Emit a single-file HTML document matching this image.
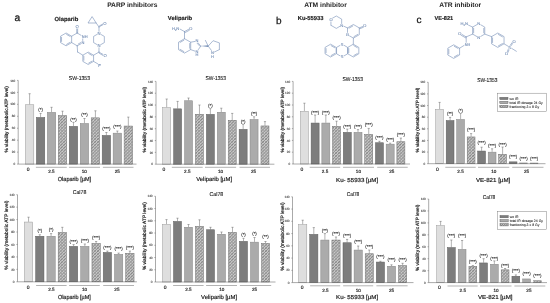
<!DOCTYPE html><html><head><meta charset="utf-8"><style>html,body{margin:0;padding:0;background:#fff;width:550px;height:303px;overflow:hidden}svg{display:block;text-rendering:geometricPrecision;filter:blur(0.3px)}text{font-family:'Liberation Sans', Arial, sans-serif}</style></head><body>
<svg width="550" height="303" viewBox="0 0 550 303">
<defs><pattern id="hatch" patternUnits="userSpaceOnUse" width="2.2" height="2.2" patternTransform="rotate(45)"><rect width="2.2" height="2.2" fill="#cacaca"/><rect width="0.75" height="2.2" fill="#858585"/><rect width="2.2" height="0.6" fill="#9a9a9a"/></pattern><pattern id="lhatch" patternUnits="userSpaceOnUse" width="1.6" height="1.6" patternTransform="rotate(45)"><rect width="1.6" height="1.6" fill="#c8c8c8"/><rect width="0.7" height="1.6" fill="#777"/></pattern></defs>
<rect width="550" height="303" fill="#fff"/>
<line x1="29.60" y1="93.70" x2="29.60" y2="104.50" stroke="#555" stroke-width="0.45"/>
<line x1="28.50" y1="93.70" x2="30.70" y2="93.70" stroke="#555" stroke-width="0.45"/>
<rect x="25.40" y="104.75" width="8.40" height="59.35" fill="#dedede" stroke="#9a9a9a" stroke-width="0.5"/>
<line x1="40.57" y1="113.40" x2="40.57" y2="117.20" stroke="#555" stroke-width="0.45"/>
<line x1="39.47" y1="113.40" x2="41.67" y2="113.40" stroke="#555" stroke-width="0.45"/>
<rect x="36.37" y="117.45" width="8.40" height="46.65" fill="#7d7d7d" stroke="#5e5e5e" stroke-width="0.5"/>
<text x="40.6" y="111.1" font-size="4.4" text-anchor="middle" font-weight="normal" fill="#333" stroke="#444" stroke-width="0.14">(*)</text>
<line x1="51.54" y1="107.30" x2="51.54" y2="112.10" stroke="#555" stroke-width="0.45"/>
<line x1="50.44" y1="107.30" x2="52.64" y2="107.30" stroke="#555" stroke-width="0.45"/>
<rect x="47.34" y="112.35" width="8.40" height="51.75" fill="#ababab" stroke="#858585" stroke-width="0.5"/>
<line x1="62.51" y1="111.20" x2="62.51" y2="115.30" stroke="#555" stroke-width="0.45"/>
<line x1="61.41" y1="111.20" x2="63.61" y2="111.20" stroke="#555" stroke-width="0.45"/>
<rect x="58.31" y="115.55" width="8.40" height="48.55" fill="url(#hatch)" stroke="#6e6e6e" stroke-width="0.5"/>
<line x1="73.48" y1="122.30" x2="73.48" y2="126.10" stroke="#555" stroke-width="0.45"/>
<line x1="72.38" y1="122.30" x2="74.58" y2="122.30" stroke="#555" stroke-width="0.45"/>
<rect x="69.28" y="126.35" width="8.40" height="37.75" fill="#7d7d7d" stroke="#5e5e5e" stroke-width="0.5"/>
<text x="73.5" y="120.6" font-size="4.4" text-anchor="middle" font-weight="normal" fill="#333" stroke="#444" stroke-width="0.14">(**)</text>
<line x1="84.45" y1="118.50" x2="84.45" y2="123.20" stroke="#555" stroke-width="0.45"/>
<line x1="83.35" y1="118.50" x2="85.55" y2="118.50" stroke="#555" stroke-width="0.45"/>
<rect x="80.25" y="123.45" width="8.40" height="40.65" fill="#ababab" stroke="#858585" stroke-width="0.5"/>
<text x="84.5" y="116.0" font-size="4.4" text-anchor="middle" font-weight="normal" fill="#333" stroke="#444" stroke-width="0.14">(**)</text>
<line x1="95.42" y1="110.80" x2="95.42" y2="117.60" stroke="#555" stroke-width="0.45"/>
<line x1="94.32" y1="110.80" x2="96.52" y2="110.80" stroke="#555" stroke-width="0.45"/>
<rect x="91.22" y="117.85" width="8.40" height="46.25" fill="url(#hatch)" stroke="#6e6e6e" stroke-width="0.5"/>
<line x1="106.39" y1="132.50" x2="106.39" y2="135.20" stroke="#555" stroke-width="0.45"/>
<line x1="105.29" y1="132.50" x2="107.49" y2="132.50" stroke="#555" stroke-width="0.45"/>
<rect x="102.19" y="135.45" width="8.40" height="28.65" fill="#7d7d7d" stroke="#5e5e5e" stroke-width="0.5"/>
<text x="106.4" y="129.7" font-size="4.4" text-anchor="middle" font-weight="normal" fill="#333" stroke="#444" stroke-width="0.14">(***)</text>
<line x1="117.36" y1="131.00" x2="117.36" y2="132.90" stroke="#555" stroke-width="0.45"/>
<line x1="116.26" y1="131.00" x2="118.46" y2="131.00" stroke="#555" stroke-width="0.45"/>
<rect x="113.16" y="133.15" width="8.40" height="30.95" fill="#ababab" stroke="#858585" stroke-width="0.5"/>
<text x="117.4" y="128.4" font-size="4.4" text-anchor="middle" font-weight="normal" fill="#333" stroke="#444" stroke-width="0.14">(***)</text>
<line x1="128.33" y1="117.10" x2="128.33" y2="125.80" stroke="#555" stroke-width="0.45"/>
<line x1="127.23" y1="117.10" x2="129.43" y2="117.10" stroke="#555" stroke-width="0.45"/>
<rect x="124.13" y="126.05" width="8.40" height="38.05" fill="url(#hatch)" stroke="#6e6e6e" stroke-width="0.5"/>
<line x1="18.20" y1="80.40" x2="18.20" y2="164.10" stroke="#555" stroke-width="0.5"/>
<line x1="18.20" y1="164.10" x2="136.50" y2="164.10" stroke="#555" stroke-width="0.5"/>
<line x1="17.00" y1="164.10" x2="18.20" y2="164.10" stroke="#555" stroke-width="0.45"/>
<text x="15.3" y="165.2" font-size="3.1" text-anchor="end" font-weight="normal" fill="#333" stroke="#444" stroke-width="0.08">0</text>
<line x1="17.00" y1="152.14" x2="18.20" y2="152.14" stroke="#555" stroke-width="0.45"/>
<text x="15.3" y="153.2" font-size="3.1" text-anchor="end" font-weight="normal" fill="#333" stroke="#444" stroke-width="0.08">20</text>
<line x1="17.00" y1="140.19" x2="18.20" y2="140.19" stroke="#555" stroke-width="0.45"/>
<text x="15.3" y="141.3" font-size="3.1" text-anchor="end" font-weight="normal" fill="#333" stroke="#444" stroke-width="0.08">40</text>
<line x1="17.00" y1="128.23" x2="18.20" y2="128.23" stroke="#555" stroke-width="0.45"/>
<text x="15.3" y="129.3" font-size="3.1" text-anchor="end" font-weight="normal" fill="#333" stroke="#444" stroke-width="0.08">60</text>
<line x1="17.00" y1="116.27" x2="18.20" y2="116.27" stroke="#555" stroke-width="0.45"/>
<text x="15.3" y="117.4" font-size="3.1" text-anchor="end" font-weight="normal" fill="#333" stroke="#444" stroke-width="0.08">80</text>
<line x1="17.00" y1="104.31" x2="18.20" y2="104.31" stroke="#555" stroke-width="0.45"/>
<text x="15.3" y="105.4" font-size="3.1" text-anchor="end" font-weight="normal" fill="#333" stroke="#444" stroke-width="0.08">100</text>
<line x1="17.00" y1="92.36" x2="18.20" y2="92.36" stroke="#555" stroke-width="0.45"/>
<text x="15.3" y="93.5" font-size="3.1" text-anchor="end" font-weight="normal" fill="#333" stroke="#444" stroke-width="0.08">120</text>
<line x1="17.00" y1="80.40" x2="18.20" y2="80.40" stroke="#555" stroke-width="0.45"/>
<text x="15.3" y="81.5" font-size="3.1" text-anchor="end" font-weight="normal" fill="#333" stroke="#444" stroke-width="0.08">140</text>
<text x="0" y="0" font-size="4.73" text-anchor="middle" fill="#1a1a1a" stroke="#222" stroke-width="0.2" transform="translate(8.3,119.3) rotate(-90)">% viability (metabolic ATP level)</text>
<text x="68.80" y="79.60" font-size="5.6" textLength="21.25" lengthAdjust="spacingAndGlyphs" fill="#111" stroke="#222" stroke-width="0.1">SW-1353</text>
<text x="28.1" y="170.6" font-size="5.0" text-anchor="middle" font-weight="normal" fill="#111" stroke="#222" stroke-width="0.15">0</text>
<line x1="35.90" y1="167.30" x2="66.80" y2="167.30" stroke="#555" stroke-width="0.45"/>
<text x="51.4" y="172.8" font-size="4.6" text-anchor="middle" font-weight="normal" fill="#111" stroke="#222" stroke-width="0.15">2.5</text>
<line x1="69.00" y1="167.30" x2="100.00" y2="167.30" stroke="#555" stroke-width="0.45"/>
<text x="84.3" y="172.8" font-size="4.6" text-anchor="middle" font-weight="normal" fill="#111" stroke="#222" stroke-width="0.15">10</text>
<line x1="102.90" y1="167.30" x2="133.50" y2="167.30" stroke="#555" stroke-width="0.45"/>
<text x="117.2" y="172.8" font-size="4.6" text-anchor="middle" font-weight="normal" fill="#111" stroke="#222" stroke-width="0.15">25</text>
<text x="57.80" y="180.80" font-size="5.8" textLength="33.25" lengthAdjust="spacingAndGlyphs" fill="#111" stroke="#222" stroke-width="0.18">Olaparib [µM]</text>
<line x1="166.70" y1="99.00" x2="166.70" y2="107.40" stroke="#555" stroke-width="0.45"/>
<line x1="165.60" y1="99.00" x2="167.80" y2="99.00" stroke="#555" stroke-width="0.45"/>
<rect x="162.70" y="107.65" width="8.00" height="56.55" fill="#dedede" stroke="#9a9a9a" stroke-width="0.5"/>
<line x1="177.62" y1="101.40" x2="177.62" y2="108.60" stroke="#555" stroke-width="0.45"/>
<line x1="176.52" y1="101.40" x2="178.72" y2="101.40" stroke="#555" stroke-width="0.45"/>
<rect x="173.62" y="108.85" width="8.00" height="55.35" fill="#7d7d7d" stroke="#5e5e5e" stroke-width="0.5"/>
<line x1="188.54" y1="98.00" x2="188.54" y2="100.50" stroke="#555" stroke-width="0.45"/>
<line x1="187.44" y1="98.00" x2="189.64" y2="98.00" stroke="#555" stroke-width="0.45"/>
<rect x="184.54" y="100.75" width="8.00" height="63.45" fill="#ababab" stroke="#858585" stroke-width="0.5"/>
<line x1="199.46" y1="105.00" x2="199.46" y2="114.00" stroke="#555" stroke-width="0.45"/>
<line x1="198.36" y1="105.00" x2="200.56" y2="105.00" stroke="#555" stroke-width="0.45"/>
<rect x="195.46" y="114.25" width="8.00" height="49.95" fill="url(#hatch)" stroke="#6e6e6e" stroke-width="0.5"/>
<line x1="210.38" y1="108.60" x2="210.38" y2="114.10" stroke="#555" stroke-width="0.45"/>
<line x1="209.28" y1="108.60" x2="211.48" y2="108.60" stroke="#555" stroke-width="0.45"/>
<rect x="206.38" y="114.35" width="8.00" height="49.85" fill="#7d7d7d" stroke="#5e5e5e" stroke-width="0.5"/>
<text x="210.4" y="107.4" font-size="4.4" text-anchor="middle" font-weight="normal" fill="#333" stroke="#444" stroke-width="0.14">(*)</text>
<line x1="221.30" y1="108.20" x2="221.30" y2="112.00" stroke="#555" stroke-width="0.45"/>
<line x1="220.20" y1="108.20" x2="222.40" y2="108.20" stroke="#555" stroke-width="0.45"/>
<rect x="217.30" y="112.25" width="8.00" height="51.95" fill="#ababab" stroke="#858585" stroke-width="0.5"/>
<line x1="232.22" y1="113.40" x2="232.22" y2="120.00" stroke="#555" stroke-width="0.45"/>
<line x1="231.12" y1="113.40" x2="233.32" y2="113.40" stroke="#555" stroke-width="0.45"/>
<rect x="228.22" y="120.25" width="8.00" height="43.95" fill="url(#hatch)" stroke="#6e6e6e" stroke-width="0.5"/>
<line x1="243.14" y1="124.30" x2="243.14" y2="129.10" stroke="#555" stroke-width="0.45"/>
<line x1="242.04" y1="124.30" x2="244.24" y2="124.30" stroke="#555" stroke-width="0.45"/>
<rect x="239.14" y="129.35" width="8.00" height="34.85" fill="#7d7d7d" stroke="#5e5e5e" stroke-width="0.5"/>
<text x="243.1" y="122.5" font-size="4.4" text-anchor="middle" font-weight="normal" fill="#333" stroke="#444" stroke-width="0.14">(*)</text>
<line x1="254.06" y1="116.80" x2="254.06" y2="119.30" stroke="#555" stroke-width="0.45"/>
<line x1="252.96" y1="116.80" x2="255.16" y2="116.80" stroke="#555" stroke-width="0.45"/>
<rect x="250.06" y="119.55" width="8.00" height="44.65" fill="#ababab" stroke="#858585" stroke-width="0.5"/>
<text x="254.1" y="115.4" font-size="4.4" text-anchor="middle" font-weight="normal" fill="#333" stroke="#444" stroke-width="0.14">(**)</text>
<line x1="264.98" y1="121.60" x2="264.98" y2="125.70" stroke="#555" stroke-width="0.45"/>
<line x1="263.88" y1="121.60" x2="266.08" y2="121.60" stroke="#555" stroke-width="0.45"/>
<rect x="260.98" y="125.95" width="8.00" height="38.25" fill="url(#hatch)" stroke="#6e6e6e" stroke-width="0.5"/>
<line x1="156.00" y1="81.40" x2="156.00" y2="164.20" stroke="#555" stroke-width="0.5"/>
<line x1="156.00" y1="164.20" x2="274.40" y2="164.20" stroke="#555" stroke-width="0.5"/>
<line x1="154.80" y1="164.20" x2="156.00" y2="164.20" stroke="#555" stroke-width="0.45"/>
<text x="153.1" y="165.3" font-size="3.1" text-anchor="end" font-weight="normal" fill="#333" stroke="#444" stroke-width="0.08">0</text>
<line x1="154.80" y1="152.37" x2="156.00" y2="152.37" stroke="#555" stroke-width="0.45"/>
<text x="153.1" y="153.5" font-size="3.1" text-anchor="end" font-weight="normal" fill="#333" stroke="#444" stroke-width="0.08">20</text>
<line x1="154.80" y1="140.54" x2="156.00" y2="140.54" stroke="#555" stroke-width="0.45"/>
<text x="153.1" y="141.6" font-size="3.1" text-anchor="end" font-weight="normal" fill="#333" stroke="#444" stroke-width="0.08">40</text>
<line x1="154.80" y1="128.71" x2="156.00" y2="128.71" stroke="#555" stroke-width="0.45"/>
<text x="153.1" y="129.8" font-size="3.1" text-anchor="end" font-weight="normal" fill="#333" stroke="#444" stroke-width="0.08">60</text>
<line x1="154.80" y1="116.89" x2="156.00" y2="116.89" stroke="#555" stroke-width="0.45"/>
<text x="153.1" y="118.0" font-size="3.1" text-anchor="end" font-weight="normal" fill="#333" stroke="#444" stroke-width="0.08">80</text>
<line x1="154.80" y1="105.06" x2="156.00" y2="105.06" stroke="#555" stroke-width="0.45"/>
<text x="153.1" y="106.2" font-size="3.1" text-anchor="end" font-weight="normal" fill="#333" stroke="#444" stroke-width="0.08">100</text>
<line x1="154.80" y1="93.23" x2="156.00" y2="93.23" stroke="#555" stroke-width="0.45"/>
<text x="153.1" y="94.3" font-size="3.1" text-anchor="end" font-weight="normal" fill="#333" stroke="#444" stroke-width="0.08">120</text>
<line x1="154.80" y1="81.40" x2="156.00" y2="81.40" stroke="#555" stroke-width="0.45"/>
<text x="153.1" y="82.5" font-size="3.1" text-anchor="end" font-weight="normal" fill="#333" stroke="#444" stroke-width="0.08">140</text>
<text x="0" y="0" font-size="4.68" text-anchor="middle" fill="#1a1a1a" stroke="#222" stroke-width="0.2" transform="translate(146.2,119.8) rotate(-90)">% viability (metabolic ATP level)</text>
<text x="205.50" y="80.30" font-size="5.6" textLength="20.55" lengthAdjust="spacingAndGlyphs" fill="#111" stroke="#222" stroke-width="0.1">SW-1353</text>
<text x="164.0" y="170.7" font-size="5.0" text-anchor="middle" font-weight="normal" fill="#111" stroke="#222" stroke-width="0.15">0</text>
<line x1="171.80" y1="167.30" x2="202.70" y2="167.30" stroke="#555" stroke-width="0.45"/>
<text x="187.3" y="172.8" font-size="4.6" text-anchor="middle" font-weight="normal" fill="#111" stroke="#222" stroke-width="0.15">2.5</text>
<line x1="205.00" y1="167.30" x2="236.10" y2="167.30" stroke="#555" stroke-width="0.45"/>
<text x="220.5" y="172.8" font-size="4.6" text-anchor="middle" font-weight="normal" fill="#111" stroke="#222" stroke-width="0.15">10</text>
<line x1="239.50" y1="167.30" x2="270.00" y2="167.30" stroke="#555" stroke-width="0.45"/>
<text x="253.5" y="172.8" font-size="4.6" text-anchor="middle" font-weight="normal" fill="#111" stroke="#222" stroke-width="0.15">25</text>
<text x="196.20" y="181.00" font-size="5.8" textLength="35.85" lengthAdjust="spacingAndGlyphs" fill="#111" stroke="#222" stroke-width="0.18">Veliparib [µM]</text>
<line x1="304.40" y1="103.20" x2="304.40" y2="111.00" stroke="#555" stroke-width="0.45"/>
<line x1="303.30" y1="103.20" x2="305.50" y2="103.20" stroke="#555" stroke-width="0.45"/>
<rect x="300.40" y="111.25" width="8.00" height="52.75" fill="#dedede" stroke="#9a9a9a" stroke-width="0.5"/>
<line x1="315.12" y1="115.00" x2="315.12" y2="122.80" stroke="#555" stroke-width="0.45"/>
<line x1="314.02" y1="115.00" x2="316.22" y2="115.00" stroke="#555" stroke-width="0.45"/>
<rect x="311.12" y="123.05" width="8.00" height="40.95" fill="#7d7d7d" stroke="#5e5e5e" stroke-width="0.5"/>
<text x="315.1" y="113.5" font-size="4.4" text-anchor="middle" font-weight="normal" fill="#333" stroke="#444" stroke-width="0.14">(***)</text>
<line x1="325.84" y1="115.00" x2="325.84" y2="122.80" stroke="#555" stroke-width="0.45"/>
<line x1="324.74" y1="115.00" x2="326.94" y2="115.00" stroke="#555" stroke-width="0.45"/>
<rect x="321.84" y="123.05" width="8.00" height="40.95" fill="#ababab" stroke="#858585" stroke-width="0.5"/>
<text x="325.8" y="113.5" font-size="4.4" text-anchor="middle" font-weight="normal" fill="#333" stroke="#444" stroke-width="0.14">(***)</text>
<line x1="336.56" y1="121.20" x2="336.56" y2="126.00" stroke="#555" stroke-width="0.45"/>
<line x1="335.46" y1="121.20" x2="337.66" y2="121.20" stroke="#555" stroke-width="0.45"/>
<rect x="332.56" y="126.25" width="8.00" height="37.75" fill="url(#hatch)" stroke="#6e6e6e" stroke-width="0.5"/>
<text x="336.6" y="119.2" font-size="4.4" text-anchor="middle" font-weight="normal" fill="#333" stroke="#444" stroke-width="0.14">(***)</text>
<line x1="347.28" y1="129.10" x2="347.28" y2="132.10" stroke="#555" stroke-width="0.45"/>
<line x1="346.18" y1="129.10" x2="348.38" y2="129.10" stroke="#555" stroke-width="0.45"/>
<rect x="343.28" y="132.35" width="8.00" height="31.65" fill="#7d7d7d" stroke="#5e5e5e" stroke-width="0.5"/>
<text x="347.3" y="127.5" font-size="4.4" text-anchor="middle" font-weight="normal" fill="#333" stroke="#444" stroke-width="0.14">(***)</text>
<line x1="358.00" y1="129.60" x2="358.00" y2="132.10" stroke="#555" stroke-width="0.45"/>
<line x1="356.90" y1="129.60" x2="359.10" y2="129.60" stroke="#555" stroke-width="0.45"/>
<rect x="354.00" y="132.35" width="8.00" height="31.65" fill="#ababab" stroke="#858585" stroke-width="0.5"/>
<text x="358.0" y="127.5" font-size="4.4" text-anchor="middle" font-weight="normal" fill="#333" stroke="#444" stroke-width="0.14">(***)</text>
<line x1="368.72" y1="128.40" x2="368.72" y2="134.10" stroke="#555" stroke-width="0.45"/>
<line x1="367.62" y1="128.40" x2="369.82" y2="128.40" stroke="#555" stroke-width="0.45"/>
<rect x="364.72" y="134.35" width="8.00" height="29.65" fill="url(#hatch)" stroke="#6e6e6e" stroke-width="0.5"/>
<text x="368.7" y="126.2" font-size="4.4" text-anchor="middle" font-weight="normal" fill="#333" stroke="#444" stroke-width="0.14">(***)</text>
<line x1="379.44" y1="141.30" x2="379.44" y2="142.50" stroke="#555" stroke-width="0.45"/>
<line x1="378.34" y1="141.30" x2="380.54" y2="141.30" stroke="#555" stroke-width="0.45"/>
<rect x="375.44" y="142.75" width="8.00" height="21.25" fill="#7d7d7d" stroke="#5e5e5e" stroke-width="0.5"/>
<text x="379.4" y="139.3" font-size="4.4" text-anchor="middle" font-weight="normal" fill="#333" stroke="#444" stroke-width="0.14">(***)</text>
<line x1="390.16" y1="143.20" x2="390.16" y2="143.90" stroke="#555" stroke-width="0.45"/>
<line x1="389.06" y1="143.20" x2="391.26" y2="143.20" stroke="#555" stroke-width="0.45"/>
<rect x="386.16" y="144.15" width="8.00" height="19.85" fill="#ababab" stroke="#858585" stroke-width="0.5"/>
<text x="390.2" y="141.2" font-size="4.4" text-anchor="middle" font-weight="normal" fill="#333" stroke="#444" stroke-width="0.14">(***)</text>
<line x1="400.88" y1="138.10" x2="400.88" y2="141.50" stroke="#555" stroke-width="0.45"/>
<line x1="399.78" y1="138.10" x2="401.98" y2="138.10" stroke="#555" stroke-width="0.45"/>
<rect x="396.88" y="141.75" width="8.00" height="22.25" fill="url(#hatch)" stroke="#6e6e6e" stroke-width="0.5"/>
<text x="400.9" y="136.0" font-size="4.4" text-anchor="middle" font-weight="normal" fill="#333" stroke="#444" stroke-width="0.14">(***)</text>
<line x1="293.10" y1="81.40" x2="293.10" y2="164.00" stroke="#555" stroke-width="0.5"/>
<line x1="293.10" y1="164.00" x2="410.00" y2="164.00" stroke="#555" stroke-width="0.5"/>
<line x1="291.90" y1="164.00" x2="293.10" y2="164.00" stroke="#555" stroke-width="0.45"/>
<text x="290.2" y="165.1" font-size="3.1" text-anchor="end" font-weight="normal" fill="#333" stroke="#444" stroke-width="0.08">0</text>
<line x1="291.90" y1="152.20" x2="293.10" y2="152.20" stroke="#555" stroke-width="0.45"/>
<text x="290.2" y="153.3" font-size="3.1" text-anchor="end" font-weight="normal" fill="#333" stroke="#444" stroke-width="0.08">20</text>
<line x1="291.90" y1="140.40" x2="293.10" y2="140.40" stroke="#555" stroke-width="0.45"/>
<text x="290.2" y="141.5" font-size="3.1" text-anchor="end" font-weight="normal" fill="#333" stroke="#444" stroke-width="0.08">40</text>
<line x1="291.90" y1="128.60" x2="293.10" y2="128.60" stroke="#555" stroke-width="0.45"/>
<text x="290.2" y="129.7" font-size="3.1" text-anchor="end" font-weight="normal" fill="#333" stroke="#444" stroke-width="0.08">60</text>
<line x1="291.90" y1="116.80" x2="293.10" y2="116.80" stroke="#555" stroke-width="0.45"/>
<text x="290.2" y="117.9" font-size="3.1" text-anchor="end" font-weight="normal" fill="#333" stroke="#444" stroke-width="0.08">80</text>
<line x1="291.90" y1="105.00" x2="293.10" y2="105.00" stroke="#555" stroke-width="0.45"/>
<text x="290.2" y="106.1" font-size="3.1" text-anchor="end" font-weight="normal" fill="#333" stroke="#444" stroke-width="0.08">100</text>
<line x1="291.90" y1="93.20" x2="293.10" y2="93.20" stroke="#555" stroke-width="0.45"/>
<text x="290.2" y="94.3" font-size="3.1" text-anchor="end" font-weight="normal" fill="#333" stroke="#444" stroke-width="0.08">120</text>
<line x1="291.90" y1="81.40" x2="293.10" y2="81.40" stroke="#555" stroke-width="0.45"/>
<text x="290.2" y="82.5" font-size="3.1" text-anchor="end" font-weight="normal" fill="#333" stroke="#444" stroke-width="0.08">140</text>
<text x="0" y="0" font-size="4.66" text-anchor="middle" fill="#1a1a1a" stroke="#222" stroke-width="0.2" transform="translate(284.4,119.8) rotate(-90)">% viability (metabolic ATP level)</text>
<text x="342.50" y="81.00" font-size="5.6" textLength="20.55" lengthAdjust="spacingAndGlyphs" fill="#111" stroke="#222" stroke-width="0.1">SW-1353</text>
<text x="302.0" y="170.9" font-size="5.0" text-anchor="middle" font-weight="normal" fill="#111" stroke="#222" stroke-width="0.15">0</text>
<line x1="309.70" y1="167.30" x2="340.20" y2="167.30" stroke="#555" stroke-width="0.45"/>
<text x="325.0" y="172.8" font-size="4.6" text-anchor="middle" font-weight="normal" fill="#111" stroke="#222" stroke-width="0.15">2.5</text>
<line x1="343.00" y1="167.30" x2="374.00" y2="167.30" stroke="#555" stroke-width="0.45"/>
<text x="358.4" y="172.8" font-size="4.6" text-anchor="middle" font-weight="normal" fill="#111" stroke="#222" stroke-width="0.15">10</text>
<line x1="377.20" y1="167.30" x2="407.70" y2="167.30" stroke="#555" stroke-width="0.45"/>
<text x="391.8" y="172.8" font-size="4.6" text-anchor="middle" font-weight="normal" fill="#111" stroke="#222" stroke-width="0.15">25</text>
<text x="336.10" y="181.80" font-size="5.8" textLength="42.05" lengthAdjust="spacingAndGlyphs" fill="#111" stroke="#222" stroke-width="0.18">Ku- 55933 [µM]</text>
<line x1="439.60" y1="102.40" x2="439.60" y2="109.20" stroke="#555" stroke-width="0.45"/>
<line x1="438.50" y1="102.40" x2="440.70" y2="102.40" stroke="#555" stroke-width="0.45"/>
<rect x="435.70" y="109.45" width="7.80" height="54.25" fill="#dedede" stroke="#9a9a9a" stroke-width="0.5"/>
<line x1="450.10" y1="117.40" x2="450.10" y2="120.30" stroke="#555" stroke-width="0.45"/>
<line x1="449.00" y1="117.40" x2="451.20" y2="117.40" stroke="#555" stroke-width="0.45"/>
<rect x="446.20" y="120.55" width="7.80" height="43.15" fill="#7d7d7d" stroke="#5e5e5e" stroke-width="0.5"/>
<text x="450.1" y="115.1" font-size="4.4" text-anchor="middle" font-weight="normal" fill="#333" stroke="#444" stroke-width="0.14">(**)</text>
<line x1="460.60" y1="113.50" x2="460.60" y2="119.20" stroke="#555" stroke-width="0.45"/>
<line x1="459.50" y1="113.50" x2="461.70" y2="113.50" stroke="#555" stroke-width="0.45"/>
<rect x="456.70" y="119.45" width="7.80" height="44.25" fill="#ababab" stroke="#858585" stroke-width="0.5"/>
<text x="460.6" y="111.5" font-size="4.4" text-anchor="middle" font-weight="normal" fill="#333" stroke="#444" stroke-width="0.14">(*)</text>
<line x1="471.10" y1="133.60" x2="471.10" y2="136.70" stroke="#555" stroke-width="0.45"/>
<line x1="470.00" y1="133.60" x2="472.20" y2="133.60" stroke="#555" stroke-width="0.45"/>
<rect x="467.20" y="136.95" width="7.80" height="26.75" fill="url(#hatch)" stroke="#6e6e6e" stroke-width="0.5"/>
<text x="471.1" y="131.0" font-size="4.4" text-anchor="middle" font-weight="normal" fill="#333" stroke="#444" stroke-width="0.14">(***)</text>
<line x1="481.60" y1="147.20" x2="481.60" y2="150.80" stroke="#555" stroke-width="0.45"/>
<line x1="480.50" y1="147.20" x2="482.70" y2="147.20" stroke="#555" stroke-width="0.45"/>
<rect x="477.70" y="151.05" width="7.80" height="12.65" fill="#7d7d7d" stroke="#5e5e5e" stroke-width="0.5"/>
<text x="481.6" y="144.3" font-size="4.4" text-anchor="middle" font-weight="normal" fill="#333" stroke="#444" stroke-width="0.14">(***)</text>
<line x1="492.10" y1="148.80" x2="492.10" y2="151.90" stroke="#555" stroke-width="0.45"/>
<line x1="491.00" y1="148.80" x2="493.20" y2="148.80" stroke="#555" stroke-width="0.45"/>
<rect x="488.20" y="152.15" width="7.80" height="11.55" fill="#ababab" stroke="#858585" stroke-width="0.5"/>
<text x="492.1" y="146.8" font-size="4.4" text-anchor="middle" font-weight="normal" fill="#333" stroke="#444" stroke-width="0.14">(***)</text>
<line x1="502.60" y1="147.00" x2="502.60" y2="154.00" stroke="#555" stroke-width="0.45"/>
<line x1="501.50" y1="147.00" x2="503.70" y2="147.00" stroke="#555" stroke-width="0.45"/>
<rect x="498.70" y="154.25" width="7.80" height="9.45" fill="url(#hatch)" stroke="#6e6e6e" stroke-width="0.5"/>
<text x="502.6" y="146.4" font-size="4.4" text-anchor="middle" font-weight="normal" fill="#333" stroke="#444" stroke-width="0.14">(***)</text>
<rect x="509.20" y="161.85" width="7.80" height="1.85" fill="#7d7d7d" stroke="#5e5e5e" stroke-width="0.5"/>
<text x="513.1" y="158.4" font-size="4.4" text-anchor="middle" font-weight="normal" fill="#333" stroke="#444" stroke-width="0.14">(***)</text>
<rect x="519.70" y="162.95" width="7.80" height="0.75" fill="#ababab" stroke="#858585" stroke-width="0.5"/>
<text x="523.6" y="159.7" font-size="4.4" text-anchor="middle" font-weight="normal" fill="#333" stroke="#444" stroke-width="0.14">(***)</text>
<rect x="530.20" y="163.05" width="7.80" height="0.65" fill="url(#hatch)" stroke="#6e6e6e" stroke-width="0.5"/>
<text x="534.1" y="159.7" font-size="4.4" text-anchor="middle" font-weight="normal" fill="#333" stroke="#444" stroke-width="0.14">(***)</text>
<line x1="428.20" y1="82.30" x2="428.20" y2="163.70" stroke="#555" stroke-width="0.5"/>
<line x1="428.20" y1="163.70" x2="545.50" y2="163.70" stroke="#555" stroke-width="0.5"/>
<line x1="427.00" y1="163.70" x2="428.20" y2="163.70" stroke="#555" stroke-width="0.45"/>
<text x="425.3" y="164.8" font-size="3.1" text-anchor="end" font-weight="normal" fill="#333" stroke="#444" stroke-width="0.08">0</text>
<line x1="427.00" y1="152.07" x2="428.20" y2="152.07" stroke="#555" stroke-width="0.45"/>
<text x="425.3" y="153.2" font-size="3.1" text-anchor="end" font-weight="normal" fill="#333" stroke="#444" stroke-width="0.08">20</text>
<line x1="427.00" y1="140.44" x2="428.20" y2="140.44" stroke="#555" stroke-width="0.45"/>
<text x="425.3" y="141.5" font-size="3.1" text-anchor="end" font-weight="normal" fill="#333" stroke="#444" stroke-width="0.08">40</text>
<line x1="427.00" y1="128.81" x2="428.20" y2="128.81" stroke="#555" stroke-width="0.45"/>
<text x="425.3" y="129.9" font-size="3.1" text-anchor="end" font-weight="normal" fill="#333" stroke="#444" stroke-width="0.08">60</text>
<line x1="427.00" y1="117.19" x2="428.20" y2="117.19" stroke="#555" stroke-width="0.45"/>
<text x="425.3" y="118.3" font-size="3.1" text-anchor="end" font-weight="normal" fill="#333" stroke="#444" stroke-width="0.08">80</text>
<line x1="427.00" y1="105.56" x2="428.20" y2="105.56" stroke="#555" stroke-width="0.45"/>
<text x="425.3" y="106.7" font-size="3.1" text-anchor="end" font-weight="normal" fill="#333" stroke="#444" stroke-width="0.08">100</text>
<line x1="427.00" y1="93.93" x2="428.20" y2="93.93" stroke="#555" stroke-width="0.45"/>
<text x="425.3" y="95.0" font-size="3.1" text-anchor="end" font-weight="normal" fill="#333" stroke="#444" stroke-width="0.08">120</text>
<line x1="427.00" y1="82.30" x2="428.20" y2="82.30" stroke="#555" stroke-width="0.45"/>
<text x="425.3" y="83.4" font-size="3.1" text-anchor="end" font-weight="normal" fill="#333" stroke="#444" stroke-width="0.08">140</text>
<text x="0" y="0" font-size="4.60" text-anchor="middle" fill="#1a1a1a" stroke="#222" stroke-width="0.2" transform="translate(419.0,120.1) rotate(-90)">% viability (metabolic ATP level)</text>
<text x="477.20" y="81.70" font-size="5.6" textLength="20.15" lengthAdjust="spacingAndGlyphs" fill="#111" stroke="#222" stroke-width="0.1">SW-1353</text>
<text x="437.3" y="170.8" font-size="5.0" text-anchor="middle" font-weight="normal" fill="#111" stroke="#222" stroke-width="0.15">0</text>
<line x1="445.30" y1="167.30" x2="475.70" y2="167.30" stroke="#555" stroke-width="0.45"/>
<text x="460.5" y="172.8" font-size="4.6" text-anchor="middle" font-weight="normal" fill="#111" stroke="#222" stroke-width="0.15">2.5</text>
<line x1="478.00" y1="167.30" x2="509.30" y2="167.30" stroke="#555" stroke-width="0.45"/>
<text x="493.7" y="172.8" font-size="4.6" text-anchor="middle" font-weight="normal" fill="#111" stroke="#222" stroke-width="0.15">10</text>
<line x1="512.20" y1="167.30" x2="543.50" y2="167.30" stroke="#555" stroke-width="0.45"/>
<text x="526.5" y="172.8" font-size="4.6" text-anchor="middle" font-weight="normal" fill="#111" stroke="#222" stroke-width="0.15">25</text>
<text x="475.90" y="181.50" font-size="5.8" textLength="34.35" lengthAdjust="spacingAndGlyphs" fill="#111" stroke="#222" stroke-width="0.18">VE-821 [µM]</text>
<line x1="28.55" y1="217.20" x2="28.55" y2="221.80" stroke="#555" stroke-width="0.45"/>
<line x1="27.45" y1="217.20" x2="29.65" y2="217.20" stroke="#555" stroke-width="0.45"/>
<rect x="24.40" y="222.05" width="8.30" height="59.75" fill="#dedede" stroke="#9a9a9a" stroke-width="0.5"/>
<line x1="39.81" y1="234.70" x2="39.81" y2="236.00" stroke="#555" stroke-width="0.45"/>
<line x1="38.71" y1="234.70" x2="40.91" y2="234.70" stroke="#555" stroke-width="0.45"/>
<rect x="35.66" y="236.25" width="8.30" height="45.55" fill="#7d7d7d" stroke="#5e5e5e" stroke-width="0.5"/>
<text x="39.8" y="231.6" font-size="4.4" text-anchor="middle" font-weight="normal" fill="#333" stroke="#444" stroke-width="0.14">(*)</text>
<line x1="51.07" y1="233.60" x2="51.07" y2="236.00" stroke="#555" stroke-width="0.45"/>
<line x1="49.97" y1="233.60" x2="52.17" y2="233.60" stroke="#555" stroke-width="0.45"/>
<rect x="46.92" y="236.25" width="8.30" height="45.55" fill="#ababab" stroke="#858585" stroke-width="0.5"/>
<text x="51.1" y="230.5" font-size="4.4" text-anchor="middle" font-weight="normal" fill="#333" stroke="#444" stroke-width="0.14">(*)</text>
<line x1="62.33" y1="227.30" x2="62.33" y2="232.20" stroke="#555" stroke-width="0.45"/>
<line x1="61.23" y1="227.30" x2="63.43" y2="227.30" stroke="#555" stroke-width="0.45"/>
<rect x="58.18" y="232.45" width="8.30" height="49.35" fill="url(#hatch)" stroke="#6e6e6e" stroke-width="0.5"/>
<line x1="73.59" y1="244.60" x2="73.59" y2="246.10" stroke="#555" stroke-width="0.45"/>
<line x1="72.49" y1="244.60" x2="74.69" y2="244.60" stroke="#555" stroke-width="0.45"/>
<rect x="69.44" y="246.35" width="8.30" height="35.45" fill="#7d7d7d" stroke="#5e5e5e" stroke-width="0.5"/>
<text x="73.6" y="242.6" font-size="4.4" text-anchor="middle" font-weight="normal" fill="#333" stroke="#444" stroke-width="0.14">(***)</text>
<line x1="84.85" y1="244.00" x2="84.85" y2="246.10" stroke="#555" stroke-width="0.45"/>
<line x1="83.75" y1="244.00" x2="85.95" y2="244.00" stroke="#555" stroke-width="0.45"/>
<rect x="80.70" y="246.35" width="8.30" height="35.45" fill="#ababab" stroke="#858585" stroke-width="0.5"/>
<text x="84.9" y="241.8" font-size="4.4" text-anchor="middle" font-weight="normal" fill="#333" stroke="#444" stroke-width="0.14">(***)</text>
<line x1="96.11" y1="241.50" x2="96.11" y2="243.20" stroke="#555" stroke-width="0.45"/>
<line x1="95.01" y1="241.50" x2="97.21" y2="241.50" stroke="#555" stroke-width="0.45"/>
<rect x="91.96" y="243.45" width="8.30" height="38.35" fill="url(#hatch)" stroke="#6e6e6e" stroke-width="0.5"/>
<text x="96.1" y="239.4" font-size="4.4" text-anchor="middle" font-weight="normal" fill="#333" stroke="#444" stroke-width="0.14">(***)</text>
<line x1="107.37" y1="251.10" x2="107.37" y2="252.20" stroke="#555" stroke-width="0.45"/>
<line x1="106.27" y1="251.10" x2="108.47" y2="251.10" stroke="#555" stroke-width="0.45"/>
<rect x="103.22" y="252.45" width="8.30" height="29.35" fill="#7d7d7d" stroke="#5e5e5e" stroke-width="0.5"/>
<text x="107.4" y="248.6" font-size="4.4" text-anchor="middle" font-weight="normal" fill="#333" stroke="#444" stroke-width="0.14">(***)</text>
<line x1="118.63" y1="253.10" x2="118.63" y2="254.10" stroke="#555" stroke-width="0.45"/>
<line x1="117.53" y1="253.10" x2="119.73" y2="253.10" stroke="#555" stroke-width="0.45"/>
<rect x="114.48" y="254.35" width="8.30" height="27.45" fill="#ababab" stroke="#858585" stroke-width="0.5"/>
<text x="118.6" y="250.4" font-size="4.4" text-anchor="middle" font-weight="normal" fill="#333" stroke="#444" stroke-width="0.14">(***)</text>
<line x1="129.89" y1="251.10" x2="129.89" y2="253.10" stroke="#555" stroke-width="0.45"/>
<line x1="128.79" y1="251.10" x2="130.99" y2="251.10" stroke="#555" stroke-width="0.45"/>
<rect x="125.74" y="253.35" width="8.30" height="28.45" fill="url(#hatch)" stroke="#6e6e6e" stroke-width="0.5"/>
<text x="129.9" y="248.6" font-size="4.4" text-anchor="middle" font-weight="normal" fill="#333" stroke="#444" stroke-width="0.14">(***)</text>
<line x1="17.50" y1="194.70" x2="17.50" y2="281.80" stroke="#555" stroke-width="0.5"/>
<line x1="17.50" y1="281.80" x2="136.90" y2="281.80" stroke="#555" stroke-width="0.5"/>
<line x1="16.30" y1="281.80" x2="17.50" y2="281.80" stroke="#555" stroke-width="0.45"/>
<text x="14.6" y="282.9" font-size="3.1" text-anchor="end" font-weight="normal" fill="#333" stroke="#444" stroke-width="0.08">0</text>
<line x1="16.30" y1="269.36" x2="17.50" y2="269.36" stroke="#555" stroke-width="0.45"/>
<text x="14.6" y="270.5" font-size="3.1" text-anchor="end" font-weight="normal" fill="#333" stroke="#444" stroke-width="0.08">20</text>
<line x1="16.30" y1="256.91" x2="17.50" y2="256.91" stroke="#555" stroke-width="0.45"/>
<text x="14.6" y="258.0" font-size="3.1" text-anchor="end" font-weight="normal" fill="#333" stroke="#444" stroke-width="0.08">40</text>
<line x1="16.30" y1="244.47" x2="17.50" y2="244.47" stroke="#555" stroke-width="0.45"/>
<text x="14.6" y="245.6" font-size="3.1" text-anchor="end" font-weight="normal" fill="#333" stroke="#444" stroke-width="0.08">60</text>
<line x1="16.30" y1="232.03" x2="17.50" y2="232.03" stroke="#555" stroke-width="0.45"/>
<text x="14.6" y="233.1" font-size="3.1" text-anchor="end" font-weight="normal" fill="#333" stroke="#444" stroke-width="0.08">80</text>
<line x1="16.30" y1="219.59" x2="17.50" y2="219.59" stroke="#555" stroke-width="0.45"/>
<text x="14.6" y="220.7" font-size="3.1" text-anchor="end" font-weight="normal" fill="#333" stroke="#444" stroke-width="0.08">100</text>
<line x1="16.30" y1="207.14" x2="17.50" y2="207.14" stroke="#555" stroke-width="0.45"/>
<text x="14.6" y="208.2" font-size="3.1" text-anchor="end" font-weight="normal" fill="#333" stroke="#444" stroke-width="0.08">120</text>
<line x1="16.30" y1="194.70" x2="17.50" y2="194.70" stroke="#555" stroke-width="0.45"/>
<text x="14.6" y="195.8" font-size="3.1" text-anchor="end" font-weight="normal" fill="#333" stroke="#444" stroke-width="0.08">140</text>
<text x="0" y="0" font-size="4.92" text-anchor="middle" fill="#1a1a1a" stroke="#222" stroke-width="0.2" transform="translate(8.1,235.1) rotate(-90)">% viability (metabolic ATP level)</text>
<text x="72.70" y="194.10" font-size="5.6" textLength="13.65" lengthAdjust="spacingAndGlyphs" fill="#111" stroke="#222" stroke-width="0.1">Cal78</text>
<text x="28.1" y="289.1" font-size="5.0" text-anchor="middle" font-weight="normal" fill="#111" stroke="#222" stroke-width="0.15">0</text>
<line x1="36.10" y1="285.50" x2="66.60" y2="285.50" stroke="#555" stroke-width="0.45"/>
<text x="51.4" y="291.4" font-size="4.6" text-anchor="middle" font-weight="normal" fill="#111" stroke="#222" stroke-width="0.15">2.5</text>
<line x1="69.10" y1="285.50" x2="99.80" y2="285.50" stroke="#555" stroke-width="0.45"/>
<text x="84.5" y="291.4" font-size="4.6" text-anchor="middle" font-weight="normal" fill="#111" stroke="#222" stroke-width="0.15">10</text>
<line x1="103.20" y1="285.50" x2="134.00" y2="285.50" stroke="#555" stroke-width="0.45"/>
<text x="116.9" y="291.4" font-size="4.6" text-anchor="middle" font-weight="normal" fill="#111" stroke="#222" stroke-width="0.15">25</text>
<text x="57.90" y="298.90" font-size="5.8" textLength="32.85" lengthAdjust="spacingAndGlyphs" fill="#111" stroke="#222" stroke-width="0.18">Olaparib [µM]</text>
<line x1="166.50" y1="219.60" x2="166.50" y2="224.20" stroke="#555" stroke-width="0.45"/>
<line x1="165.40" y1="219.60" x2="167.60" y2="219.60" stroke="#555" stroke-width="0.45"/>
<rect x="162.50" y="224.45" width="8.00" height="57.55" fill="#dedede" stroke="#9a9a9a" stroke-width="0.5"/>
<line x1="177.50" y1="218.20" x2="177.50" y2="221.20" stroke="#555" stroke-width="0.45"/>
<line x1="176.40" y1="218.20" x2="178.60" y2="218.20" stroke="#555" stroke-width="0.45"/>
<rect x="173.50" y="221.45" width="8.00" height="60.55" fill="#7d7d7d" stroke="#5e5e5e" stroke-width="0.5"/>
<line x1="188.50" y1="224.50" x2="188.50" y2="227.00" stroke="#555" stroke-width="0.45"/>
<line x1="187.40" y1="224.50" x2="189.60" y2="224.50" stroke="#555" stroke-width="0.45"/>
<rect x="184.50" y="227.25" width="8.00" height="54.75" fill="#ababab" stroke="#858585" stroke-width="0.5"/>
<line x1="199.50" y1="219.80" x2="199.50" y2="226.10" stroke="#555" stroke-width="0.45"/>
<line x1="198.40" y1="219.80" x2="200.60" y2="219.80" stroke="#555" stroke-width="0.45"/>
<rect x="195.50" y="226.35" width="8.00" height="55.65" fill="url(#hatch)" stroke="#6e6e6e" stroke-width="0.5"/>
<line x1="210.50" y1="227.30" x2="210.50" y2="229.50" stroke="#555" stroke-width="0.45"/>
<line x1="209.40" y1="227.30" x2="211.60" y2="227.30" stroke="#555" stroke-width="0.45"/>
<rect x="206.50" y="229.75" width="8.00" height="52.25" fill="#7d7d7d" stroke="#5e5e5e" stroke-width="0.5"/>
<line x1="221.50" y1="232.00" x2="221.50" y2="234.00" stroke="#555" stroke-width="0.45"/>
<line x1="220.40" y1="232.00" x2="222.60" y2="232.00" stroke="#555" stroke-width="0.45"/>
<rect x="217.50" y="234.25" width="8.00" height="47.75" fill="#ababab" stroke="#858585" stroke-width="0.5"/>
<line x1="232.50" y1="227.30" x2="232.50" y2="232.10" stroke="#555" stroke-width="0.45"/>
<line x1="231.40" y1="227.30" x2="233.60" y2="227.30" stroke="#555" stroke-width="0.45"/>
<rect x="228.50" y="232.35" width="8.00" height="49.65" fill="url(#hatch)" stroke="#6e6e6e" stroke-width="0.5"/>
<line x1="243.50" y1="238.30" x2="243.50" y2="241.10" stroke="#555" stroke-width="0.45"/>
<line x1="242.40" y1="238.30" x2="244.60" y2="238.30" stroke="#555" stroke-width="0.45"/>
<rect x="239.50" y="241.35" width="8.00" height="40.65" fill="#7d7d7d" stroke="#5e5e5e" stroke-width="0.5"/>
<text x="243.5" y="235.5" font-size="4.4" text-anchor="middle" font-weight="normal" fill="#333" stroke="#444" stroke-width="0.14">(*)</text>
<line x1="254.50" y1="237.50" x2="254.50" y2="241.90" stroke="#555" stroke-width="0.45"/>
<line x1="253.40" y1="237.50" x2="255.60" y2="237.50" stroke="#555" stroke-width="0.45"/>
<rect x="250.50" y="242.15" width="8.00" height="39.85" fill="#ababab" stroke="#858585" stroke-width="0.5"/>
<text x="254.5" y="235.0" font-size="4.4" text-anchor="middle" font-weight="normal" fill="#333" stroke="#444" stroke-width="0.14">(*)</text>
<line x1="265.50" y1="241.50" x2="265.50" y2="243.10" stroke="#555" stroke-width="0.45"/>
<line x1="264.40" y1="241.50" x2="266.60" y2="241.50" stroke="#555" stroke-width="0.45"/>
<rect x="261.50" y="243.35" width="8.00" height="38.65" fill="url(#hatch)" stroke="#6e6e6e" stroke-width="0.5"/>
<text x="265.5" y="238.2" font-size="4.4" text-anchor="middle" font-weight="normal" fill="#333" stroke="#444" stroke-width="0.14">(**)</text>
<line x1="155.50" y1="196.30" x2="155.50" y2="282.00" stroke="#555" stroke-width="0.5"/>
<line x1="155.50" y1="282.00" x2="275.50" y2="282.00" stroke="#555" stroke-width="0.5"/>
<line x1="154.30" y1="282.00" x2="155.50" y2="282.00" stroke="#555" stroke-width="0.45"/>
<text x="152.6" y="283.1" font-size="3.1" text-anchor="end" font-weight="normal" fill="#333" stroke="#444" stroke-width="0.08">0</text>
<line x1="154.30" y1="269.76" x2="155.50" y2="269.76" stroke="#555" stroke-width="0.45"/>
<text x="152.6" y="270.9" font-size="3.1" text-anchor="end" font-weight="normal" fill="#333" stroke="#444" stroke-width="0.08">20</text>
<line x1="154.30" y1="257.51" x2="155.50" y2="257.51" stroke="#555" stroke-width="0.45"/>
<text x="152.6" y="258.6" font-size="3.1" text-anchor="end" font-weight="normal" fill="#333" stroke="#444" stroke-width="0.08">40</text>
<line x1="154.30" y1="245.27" x2="155.50" y2="245.27" stroke="#555" stroke-width="0.45"/>
<text x="152.6" y="246.4" font-size="3.1" text-anchor="end" font-weight="normal" fill="#333" stroke="#444" stroke-width="0.08">60</text>
<line x1="154.30" y1="233.03" x2="155.50" y2="233.03" stroke="#555" stroke-width="0.45"/>
<text x="152.6" y="234.1" font-size="3.1" text-anchor="end" font-weight="normal" fill="#333" stroke="#444" stroke-width="0.08">80</text>
<line x1="154.30" y1="220.79" x2="155.50" y2="220.79" stroke="#555" stroke-width="0.45"/>
<text x="152.6" y="221.9" font-size="3.1" text-anchor="end" font-weight="normal" fill="#333" stroke="#444" stroke-width="0.08">100</text>
<line x1="154.30" y1="208.54" x2="155.50" y2="208.54" stroke="#555" stroke-width="0.45"/>
<text x="152.6" y="209.6" font-size="3.1" text-anchor="end" font-weight="normal" fill="#333" stroke="#444" stroke-width="0.08">120</text>
<line x1="154.30" y1="196.30" x2="155.50" y2="196.30" stroke="#555" stroke-width="0.45"/>
<text x="152.6" y="197.4" font-size="3.1" text-anchor="end" font-weight="normal" fill="#333" stroke="#444" stroke-width="0.08">140</text>
<text x="0" y="0" font-size="4.84" text-anchor="middle" fill="#1a1a1a" stroke="#222" stroke-width="0.2" transform="translate(145.9,236.1) rotate(-90)">% viability (metabolic ATP level)</text>
<text x="209.60" y="196.10" font-size="5.6" textLength="13.65" lengthAdjust="spacingAndGlyphs" fill="#111" stroke="#222" stroke-width="0.1">Cal78</text>
<text x="165.1" y="289.0" font-size="5.0" text-anchor="middle" font-weight="normal" fill="#111" stroke="#222" stroke-width="0.15">0</text>
<line x1="173.10" y1="285.50" x2="203.60" y2="285.50" stroke="#555" stroke-width="0.45"/>
<text x="188.4" y="291.4" font-size="4.6" text-anchor="middle" font-weight="normal" fill="#111" stroke="#222" stroke-width="0.15">2.5</text>
<line x1="206.10" y1="285.50" x2="237.00" y2="285.50" stroke="#555" stroke-width="0.45"/>
<text x="221.7" y="291.4" font-size="4.6" text-anchor="middle" font-weight="normal" fill="#111" stroke="#222" stroke-width="0.15">10</text>
<line x1="239.90" y1="285.50" x2="271.20" y2="285.50" stroke="#555" stroke-width="0.45"/>
<text x="254.5" y="291.4" font-size="4.6" text-anchor="middle" font-weight="normal" fill="#111" stroke="#222" stroke-width="0.15">25</text>
<text x="201.10" y="298.60" font-size="5.8" textLength="35.95" lengthAdjust="spacingAndGlyphs" fill="#111" stroke="#222" stroke-width="0.18">Veliparib [µM]</text>
<line x1="302.70" y1="220.20" x2="302.70" y2="224.40" stroke="#555" stroke-width="0.45"/>
<line x1="301.60" y1="220.20" x2="303.80" y2="220.20" stroke="#555" stroke-width="0.45"/>
<rect x="298.60" y="224.65" width="8.20" height="57.95" fill="#dedede" stroke="#9a9a9a" stroke-width="0.5"/>
<line x1="313.80" y1="227.60" x2="313.80" y2="234.10" stroke="#555" stroke-width="0.45"/>
<line x1="312.70" y1="227.60" x2="314.90" y2="227.60" stroke="#555" stroke-width="0.45"/>
<rect x="309.70" y="234.35" width="8.20" height="48.25" fill="#7d7d7d" stroke="#5e5e5e" stroke-width="0.5"/>
<line x1="324.90" y1="233.60" x2="324.90" y2="239.80" stroke="#555" stroke-width="0.45"/>
<line x1="323.80" y1="233.60" x2="326.00" y2="233.60" stroke="#555" stroke-width="0.45"/>
<rect x="320.80" y="240.05" width="8.20" height="42.55" fill="#ababab" stroke="#858585" stroke-width="0.5"/>
<text x="324.9" y="231.5" font-size="4.4" text-anchor="middle" font-weight="normal" fill="#333" stroke="#444" stroke-width="0.14">(**)</text>
<line x1="336.00" y1="237.00" x2="336.00" y2="239.80" stroke="#555" stroke-width="0.45"/>
<line x1="334.90" y1="237.00" x2="337.10" y2="237.00" stroke="#555" stroke-width="0.45"/>
<rect x="331.90" y="240.05" width="8.20" height="42.55" fill="url(#hatch)" stroke="#6e6e6e" stroke-width="0.5"/>
<text x="336.0" y="234.5" font-size="4.4" text-anchor="middle" font-weight="normal" fill="#333" stroke="#444" stroke-width="0.14">(***)</text>
<line x1="347.10" y1="239.40" x2="347.10" y2="242.50" stroke="#555" stroke-width="0.45"/>
<line x1="346.00" y1="239.40" x2="348.20" y2="239.40" stroke="#555" stroke-width="0.45"/>
<rect x="343.00" y="242.75" width="8.20" height="39.85" fill="#7d7d7d" stroke="#5e5e5e" stroke-width="0.5"/>
<text x="347.1" y="236.5" font-size="4.4" text-anchor="middle" font-weight="normal" fill="#333" stroke="#444" stroke-width="0.14">(***)</text>
<line x1="358.20" y1="246.00" x2="358.20" y2="249.80" stroke="#555" stroke-width="0.45"/>
<line x1="357.10" y1="246.00" x2="359.30" y2="246.00" stroke="#555" stroke-width="0.45"/>
<rect x="354.10" y="250.05" width="8.20" height="32.55" fill="#ababab" stroke="#858585" stroke-width="0.5"/>
<text x="358.2" y="243.4" font-size="4.4" text-anchor="middle" font-weight="normal" fill="#333" stroke="#444" stroke-width="0.14">(***)</text>
<line x1="369.30" y1="250.00" x2="369.30" y2="253.50" stroke="#555" stroke-width="0.45"/>
<line x1="368.20" y1="250.00" x2="370.40" y2="250.00" stroke="#555" stroke-width="0.45"/>
<rect x="365.20" y="253.75" width="8.20" height="28.85" fill="url(#hatch)" stroke="#6e6e6e" stroke-width="0.5"/>
<text x="369.3" y="248.3" font-size="4.4" text-anchor="middle" font-weight="normal" fill="#333" stroke="#444" stroke-width="0.14">(***)</text>
<line x1="380.40" y1="261.30" x2="380.40" y2="261.80" stroke="#555" stroke-width="0.45"/>
<line x1="379.30" y1="261.30" x2="381.50" y2="261.30" stroke="#555" stroke-width="0.45"/>
<rect x="376.30" y="262.05" width="8.20" height="20.55" fill="#7d7d7d" stroke="#5e5e5e" stroke-width="0.5"/>
<text x="380.4" y="258.4" font-size="4.4" text-anchor="middle" font-weight="normal" fill="#333" stroke="#444" stroke-width="0.14">(***)</text>
<line x1="391.50" y1="264.80" x2="391.50" y2="266.00" stroke="#555" stroke-width="0.45"/>
<line x1="390.40" y1="264.80" x2="392.60" y2="264.80" stroke="#555" stroke-width="0.45"/>
<rect x="387.40" y="266.25" width="8.20" height="16.35" fill="#ababab" stroke="#858585" stroke-width="0.5"/>
<text x="391.5" y="261.4" font-size="4.4" text-anchor="middle" font-weight="normal" fill="#333" stroke="#444" stroke-width="0.14">(***)</text>
<line x1="402.60" y1="263.30" x2="402.60" y2="265.30" stroke="#555" stroke-width="0.45"/>
<line x1="401.50" y1="263.30" x2="403.70" y2="263.30" stroke="#555" stroke-width="0.45"/>
<rect x="398.50" y="265.55" width="8.20" height="17.05" fill="url(#hatch)" stroke="#6e6e6e" stroke-width="0.5"/>
<text x="402.6" y="261.1" font-size="4.4" text-anchor="middle" font-weight="normal" fill="#333" stroke="#444" stroke-width="0.14">(***)</text>
<line x1="292.50" y1="196.80" x2="292.50" y2="282.60" stroke="#555" stroke-width="0.5"/>
<line x1="292.50" y1="282.60" x2="413.50" y2="282.60" stroke="#555" stroke-width="0.5"/>
<line x1="291.30" y1="282.60" x2="292.50" y2="282.60" stroke="#555" stroke-width="0.45"/>
<text x="289.6" y="283.7" font-size="3.1" text-anchor="end" font-weight="normal" fill="#333" stroke="#444" stroke-width="0.08">0</text>
<line x1="291.30" y1="270.34" x2="292.50" y2="270.34" stroke="#555" stroke-width="0.45"/>
<text x="289.6" y="271.4" font-size="3.1" text-anchor="end" font-weight="normal" fill="#333" stroke="#444" stroke-width="0.08">20</text>
<line x1="291.30" y1="258.09" x2="292.50" y2="258.09" stroke="#555" stroke-width="0.45"/>
<text x="289.6" y="259.2" font-size="3.1" text-anchor="end" font-weight="normal" fill="#333" stroke="#444" stroke-width="0.08">40</text>
<line x1="291.30" y1="245.83" x2="292.50" y2="245.83" stroke="#555" stroke-width="0.45"/>
<text x="289.6" y="246.9" font-size="3.1" text-anchor="end" font-weight="normal" fill="#333" stroke="#444" stroke-width="0.08">60</text>
<line x1="291.30" y1="233.57" x2="292.50" y2="233.57" stroke="#555" stroke-width="0.45"/>
<text x="289.6" y="234.7" font-size="3.1" text-anchor="end" font-weight="normal" fill="#333" stroke="#444" stroke-width="0.08">80</text>
<line x1="291.30" y1="221.31" x2="292.50" y2="221.31" stroke="#555" stroke-width="0.45"/>
<text x="289.6" y="222.4" font-size="3.1" text-anchor="end" font-weight="normal" fill="#333" stroke="#444" stroke-width="0.08">100</text>
<line x1="291.30" y1="209.06" x2="292.50" y2="209.06" stroke="#555" stroke-width="0.45"/>
<text x="289.6" y="210.2" font-size="3.1" text-anchor="end" font-weight="normal" fill="#333" stroke="#444" stroke-width="0.08">120</text>
<line x1="291.30" y1="196.80" x2="292.50" y2="196.80" stroke="#555" stroke-width="0.45"/>
<text x="289.6" y="197.9" font-size="3.1" text-anchor="end" font-weight="normal" fill="#333" stroke="#444" stroke-width="0.08">140</text>
<text x="0" y="0" font-size="4.85" text-anchor="middle" fill="#1a1a1a" stroke="#222" stroke-width="0.2" transform="translate(284.2,236.6) rotate(-90)">% viability (metabolic ATP level)</text>
<text x="346.70" y="195.90" font-size="5.6" textLength="12.55" lengthAdjust="spacingAndGlyphs" fill="#111" stroke="#222" stroke-width="0.1">Cal78</text>
<text x="302.1" y="289.1" font-size="5.0" text-anchor="middle" font-weight="normal" fill="#111" stroke="#222" stroke-width="0.15">0</text>
<line x1="310.10" y1="285.80" x2="340.20" y2="285.80" stroke="#555" stroke-width="0.45"/>
<text x="325.4" y="291.6" font-size="4.6" text-anchor="middle" font-weight="normal" fill="#111" stroke="#222" stroke-width="0.15">2.5</text>
<line x1="343.10" y1="285.80" x2="373.20" y2="285.80" stroke="#555" stroke-width="0.45"/>
<text x="358.2" y="291.6" font-size="4.6" text-anchor="middle" font-weight="normal" fill="#111" stroke="#222" stroke-width="0.15">10</text>
<line x1="376.40" y1="285.80" x2="407.60" y2="285.80" stroke="#555" stroke-width="0.45"/>
<text x="391.6" y="291.6" font-size="4.6" text-anchor="middle" font-weight="normal" fill="#111" stroke="#222" stroke-width="0.15">25</text>
<text x="336.10" y="299.40" font-size="5.8" textLength="42.05" lengthAdjust="spacingAndGlyphs" fill="#111" stroke="#222" stroke-width="0.18">Ku- 55933 [µM]</text>
<line x1="440.60" y1="221.40" x2="440.60" y2="225.40" stroke="#555" stroke-width="0.45"/>
<line x1="439.50" y1="221.40" x2="441.70" y2="221.40" stroke="#555" stroke-width="0.45"/>
<rect x="436.70" y="225.65" width="7.80" height="56.95" fill="#dedede" stroke="#9a9a9a" stroke-width="0.5"/>
<line x1="451.35" y1="240.00" x2="451.35" y2="247.30" stroke="#555" stroke-width="0.45"/>
<line x1="450.25" y1="240.00" x2="452.45" y2="240.00" stroke="#555" stroke-width="0.45"/>
<rect x="447.45" y="247.55" width="7.80" height="35.05" fill="#7d7d7d" stroke="#5e5e5e" stroke-width="0.5"/>
<text x="451.3" y="236.9" font-size="4.4" text-anchor="middle" font-weight="normal" fill="#333" stroke="#444" stroke-width="0.14">(***)</text>
<line x1="462.10" y1="240.50" x2="462.10" y2="249.10" stroke="#555" stroke-width="0.45"/>
<line x1="461.00" y1="240.50" x2="463.20" y2="240.50" stroke="#555" stroke-width="0.45"/>
<rect x="458.20" y="249.35" width="7.80" height="33.25" fill="#ababab" stroke="#858585" stroke-width="0.5"/>
<text x="462.1" y="236.9" font-size="4.4" text-anchor="middle" font-weight="normal" fill="#333" stroke="#444" stroke-width="0.14">(***)</text>
<line x1="472.85" y1="265.50" x2="472.85" y2="266.00" stroke="#555" stroke-width="0.45"/>
<line x1="471.75" y1="265.50" x2="473.95" y2="265.50" stroke="#555" stroke-width="0.45"/>
<rect x="468.95" y="266.25" width="7.80" height="16.35" fill="url(#hatch)" stroke="#6e6e6e" stroke-width="0.5"/>
<text x="472.8" y="262.7" font-size="4.4" text-anchor="middle" font-weight="normal" fill="#333" stroke="#444" stroke-width="0.14">(***)</text>
<line x1="483.60" y1="258.70" x2="483.60" y2="262.70" stroke="#555" stroke-width="0.45"/>
<line x1="482.50" y1="258.70" x2="484.70" y2="258.70" stroke="#555" stroke-width="0.45"/>
<rect x="479.70" y="262.95" width="7.80" height="19.65" fill="#7d7d7d" stroke="#5e5e5e" stroke-width="0.5"/>
<text x="483.6" y="256.9" font-size="4.4" text-anchor="middle" font-weight="normal" fill="#333" stroke="#444" stroke-width="0.14">(***)</text>
<line x1="494.35" y1="260.90" x2="494.35" y2="264.00" stroke="#555" stroke-width="0.45"/>
<line x1="493.25" y1="260.90" x2="495.45" y2="260.90" stroke="#555" stroke-width="0.45"/>
<rect x="490.45" y="264.25" width="7.80" height="18.35" fill="#ababab" stroke="#858585" stroke-width="0.5"/>
<text x="494.3" y="259.6" font-size="4.4" text-anchor="middle" font-weight="normal" fill="#333" stroke="#444" stroke-width="0.14">(***)</text>
<line x1="505.10" y1="268.50" x2="505.10" y2="269.60" stroke="#555" stroke-width="0.45"/>
<line x1="504.00" y1="268.50" x2="506.20" y2="268.50" stroke="#555" stroke-width="0.45"/>
<rect x="501.20" y="269.85" width="7.80" height="12.75" fill="url(#hatch)" stroke="#6e6e6e" stroke-width="0.5"/>
<text x="505.1" y="266.9" font-size="4.4" text-anchor="middle" font-weight="normal" fill="#333" stroke="#444" stroke-width="0.14">(***)</text>
<line x1="515.85" y1="274.90" x2="515.85" y2="276.00" stroke="#555" stroke-width="0.45"/>
<line x1="514.75" y1="274.90" x2="516.95" y2="274.90" stroke="#555" stroke-width="0.45"/>
<rect x="511.95" y="276.25" width="7.80" height="6.35" fill="#7d7d7d" stroke="#5e5e5e" stroke-width="0.5"/>
<text x="515.9" y="272.3" font-size="4.4" text-anchor="middle" font-weight="normal" fill="#333" stroke="#444" stroke-width="0.14">(***)</text>
<rect x="522.70" y="278.95" width="7.80" height="3.65" fill="#ababab" stroke="#858585" stroke-width="0.5"/>
<text x="526.6" y="274.9" font-size="4.4" text-anchor="middle" font-weight="normal" fill="#333" stroke="#444" stroke-width="0.14">(***)</text>
<rect x="533.45" y="280.75" width="7.80" height="1.85" fill="url(#hatch)" stroke="#6e6e6e" stroke-width="0.5"/>
<text x="537.4" y="276.5" font-size="4.4" text-anchor="middle" font-weight="normal" fill="#333" stroke="#444" stroke-width="0.14">(***)</text>
<line x1="428.70" y1="199.00" x2="428.70" y2="282.60" stroke="#555" stroke-width="0.5"/>
<line x1="428.70" y1="282.60" x2="547.00" y2="282.60" stroke="#555" stroke-width="0.5"/>
<line x1="427.50" y1="282.60" x2="428.70" y2="282.60" stroke="#555" stroke-width="0.45"/>
<text x="425.8" y="283.7" font-size="3.1" text-anchor="end" font-weight="normal" fill="#333" stroke="#444" stroke-width="0.08">0</text>
<line x1="427.50" y1="270.66" x2="428.70" y2="270.66" stroke="#555" stroke-width="0.45"/>
<text x="425.8" y="271.8" font-size="3.1" text-anchor="end" font-weight="normal" fill="#333" stroke="#444" stroke-width="0.08">20</text>
<line x1="427.50" y1="258.71" x2="428.70" y2="258.71" stroke="#555" stroke-width="0.45"/>
<text x="425.8" y="259.8" font-size="3.1" text-anchor="end" font-weight="normal" fill="#333" stroke="#444" stroke-width="0.08">40</text>
<line x1="427.50" y1="246.77" x2="428.70" y2="246.77" stroke="#555" stroke-width="0.45"/>
<text x="425.8" y="247.9" font-size="3.1" text-anchor="end" font-weight="normal" fill="#333" stroke="#444" stroke-width="0.08">60</text>
<line x1="427.50" y1="234.83" x2="428.70" y2="234.83" stroke="#555" stroke-width="0.45"/>
<text x="425.8" y="235.9" font-size="3.1" text-anchor="end" font-weight="normal" fill="#333" stroke="#444" stroke-width="0.08">80</text>
<line x1="427.50" y1="222.89" x2="428.70" y2="222.89" stroke="#555" stroke-width="0.45"/>
<text x="425.8" y="224.0" font-size="3.1" text-anchor="end" font-weight="normal" fill="#333" stroke="#444" stroke-width="0.08">100</text>
<line x1="427.50" y1="210.94" x2="428.70" y2="210.94" stroke="#555" stroke-width="0.45"/>
<text x="425.8" y="212.0" font-size="3.1" text-anchor="end" font-weight="normal" fill="#333" stroke="#444" stroke-width="0.08">120</text>
<line x1="427.50" y1="199.00" x2="428.70" y2="199.00" stroke="#555" stroke-width="0.45"/>
<text x="425.8" y="200.1" font-size="3.1" text-anchor="end" font-weight="normal" fill="#333" stroke="#444" stroke-width="0.08">140</text>
<text x="0" y="0" font-size="4.72" text-anchor="middle" fill="#1a1a1a" stroke="#222" stroke-width="0.2" transform="translate(419.2,237.8) rotate(-90)">% viability (metabolic ATP level)</text>
<text x="482.70" y="199.10" font-size="5.6" textLength="12.55" lengthAdjust="spacingAndGlyphs" fill="#111" stroke="#222" stroke-width="0.1">Cal78</text>
<text x="439.3" y="289.3" font-size="5.0" text-anchor="middle" font-weight="normal" fill="#111" stroke="#222" stroke-width="0.15">0</text>
<line x1="447.50" y1="286.00" x2="477.70" y2="286.00" stroke="#555" stroke-width="0.45"/>
<text x="462.8" y="291.7" font-size="4.6" text-anchor="middle" font-weight="normal" fill="#111" stroke="#222" stroke-width="0.15">2.5</text>
<line x1="480.00" y1="286.00" x2="511.50" y2="286.00" stroke="#555" stroke-width="0.45"/>
<text x="496.0" y="291.7" font-size="4.6" text-anchor="middle" font-weight="normal" fill="#111" stroke="#222" stroke-width="0.15">10</text>
<line x1="514.40" y1="286.00" x2="545.30" y2="286.00" stroke="#555" stroke-width="0.45"/>
<text x="528.9" y="291.7" font-size="4.6" text-anchor="middle" font-weight="normal" fill="#111" stroke="#222" stroke-width="0.15">25</text>
<text x="477.90" y="298.60" font-size="5.8" textLength="34.65" lengthAdjust="spacingAndGlyphs" fill="#111" stroke="#222" stroke-width="0.18">VE-821 [µM]</text>
<rect x="497.4" y="93.2" width="49.1" height="18.2" fill="#fff" stroke="#777" stroke-width="0.45"/>
<rect x="499.8" y="97.3" width="8.2" height="2.3" fill="#7d7d7d" stroke="#5a5a5a" stroke-width="0.45"/>
<text x="509.6" y="99.6" font-size="3.45" text-anchor="start" font-weight="normal" fill="#1a1a1a" stroke="#333" stroke-width="0.07">wo IR</text>
<rect x="499.8" y="101.3" width="8.2" height="2.3" fill="#ababab" stroke="#5a5a5a" stroke-width="0.45"/>
<text x="509.6" y="103.6" font-size="3.45" text-anchor="start" font-weight="normal" fill="#1a1a1a" stroke="#333" stroke-width="0.07">total IR dosage 24 Gy</text>
<rect x="499.8" y="105.4" width="8.2" height="2.3" fill="url(#lhatch)" stroke="#5a5a5a" stroke-width="0.45"/>
<text x="509.6" y="107.7" font-size="3.45" text-anchor="start" font-weight="normal" fill="#1a1a1a" stroke="#333" stroke-width="0.07">fractioning 3 x 8 Gy</text>
<rect x="497.6" y="211.4" width="49.1" height="18.2" fill="#fff" stroke="#777" stroke-width="0.45"/>
<rect x="500.0" y="215.5" width="8.2" height="2.3" fill="#7d7d7d" stroke="#5a5a5a" stroke-width="0.45"/>
<text x="509.8" y="217.8" font-size="3.45" text-anchor="start" font-weight="normal" fill="#1a1a1a" stroke="#333" stroke-width="0.07">wo IR</text>
<rect x="500.0" y="219.6" width="8.2" height="2.3" fill="#ababab" stroke="#5a5a5a" stroke-width="0.45"/>
<text x="509.8" y="221.9" font-size="3.45" text-anchor="start" font-weight="normal" fill="#1a1a1a" stroke="#333" stroke-width="0.07">total IR dosage 24 Gy</text>
<rect x="500.0" y="223.6" width="8.2" height="2.3" fill="url(#lhatch)" stroke="#5a5a5a" stroke-width="0.45"/>
<text x="509.8" y="225.9" font-size="3.45" text-anchor="start" font-weight="normal" fill="#1a1a1a" stroke="#333" stroke-width="0.07">fractioning 3 x 8 Gy</text>
<text x="132.3" y="7.3" font-size="6.7" text-anchor="middle" font-weight="bold" fill="#1a1a1a" >PARP inhibitors</text>
<text x="325.5" y="7.3" font-size="6.7" text-anchor="middle" font-weight="bold" fill="#1a1a1a" >ATM inhibitor</text>
<text x="460.3" y="7.0" font-size="6.7" text-anchor="middle" font-weight="bold" fill="#1a1a1a" >ATR inhibitor</text>
<text x="17.4" y="20.6" font-size="10.2" text-anchor="middle" font-weight="normal" fill="#1a1a1a" stroke="#1a1a1a" stroke-width="0.3">a</text>
<text x="278.9" y="24.0" font-size="10.0" text-anchor="middle" font-weight="normal" fill="#1a1a1a" stroke="#1a1a1a" stroke-width="0.25">b</text>
<text x="419.0" y="22.6" font-size="10.0" text-anchor="middle" font-weight="normal" fill="#1a1a1a" stroke="#1a1a1a" stroke-width="0.3">c</text>
<text x="66.4" y="20.6" font-size="5.85" text-anchor="middle" font-weight="bold" fill="#1a1a1a" stroke="#1a1a1a" stroke-width="0.15">Olaparib</text>
<text x="180.0" y="20.0" font-size="5.85" text-anchor="middle" font-weight="bold" fill="#1a1a1a" stroke="#1a1a1a" stroke-width="0.15">Veliparib</text>
<text x="310.6" y="20.3" font-size="5.8" text-anchor="middle" font-weight="bold" fill="#1a1a1a" stroke="#1a1a1a" stroke-width="0.15">Ku-55933</text>
<text x="443.8" y="20.3" font-size="5.6" text-anchor="middle" font-weight="bold" fill="#1a1a1a" stroke="#1a1a1a" stroke-width="0.15">VE-821</text>
<polygon points="66.10,33.00 71.64,36.20 71.64,42.60 66.10,45.80 60.56,42.60 60.56,36.20" fill="none" stroke="#7891b7" stroke-width="0.62" stroke-linejoin="round"/>
<line x1="66.60" y1="34.44" x2="70.14" y2="36.49" stroke="#7891b7" stroke-width="0.62" stroke-linecap="round"/>
<line x1="70.14" y1="42.31" x2="66.60" y2="44.36" stroke="#7891b7" stroke-width="0.62" stroke-linecap="round"/>
<line x1="61.56" y1="41.45" x2="61.56" y2="37.35" stroke="#7891b7" stroke-width="0.62" stroke-linecap="round"/>
<line x1="77.19" y1="33.00" x2="81.53" y2="35.60" stroke="#7891b7" stroke-width="0.62" stroke-linecap="round"/>
<line x1="82.73" y1="37.60" x2="82.73" y2="41.30" stroke="#7891b7" stroke-width="0.62" stroke-linecap="round"/>
<line x1="81.73" y1="43.40" x2="77.19" y2="45.80" stroke="#7891b7" stroke-width="0.62" stroke-linecap="round"/>
<line x1="80.68" y1="42.63" x2="78.24" y2="44.04" stroke="#7891b7" stroke-width="0.62" stroke-linecap="round"/>
<line x1="77.19" y1="45.80" x2="71.64" y2="42.60" stroke="#7891b7" stroke-width="0.62" stroke-linecap="round"/>
<line x1="71.64" y1="36.20" x2="77.19" y2="33.00" stroke="#7891b7" stroke-width="0.62" stroke-linecap="round"/>
<line x1="76.74" y1="33.00" x2="76.74" y2="28.40" stroke="#7891b7" stroke-width="0.62" stroke-linecap="round"/>
<line x1="77.64" y1="33.00" x2="77.64" y2="28.40" stroke="#7891b7" stroke-width="0.62" stroke-linecap="round"/>
<line x1="77.19" y1="45.80" x2="77.59" y2="52.00" stroke="#7891b7" stroke-width="0.62" stroke-linecap="round"/>
<polygon points="88.20,52.10 93.57,55.20 93.57,61.40 88.20,64.50 82.83,61.40 82.83,55.20" fill="none" stroke="#7891b7" stroke-width="0.62" stroke-linejoin="round"/>
<line x1="77.59" y1="52.00" x2="82.83" y2="55.20" stroke="#7891b7" stroke-width="0.62" stroke-linecap="round"/>
<line x1="88.67" y1="53.52" x2="92.10" y2="55.51" stroke="#7891b7" stroke-width="0.62" stroke-linecap="round"/>
<line x1="92.10" y1="61.09" x2="88.67" y2="63.08" stroke="#7891b7" stroke-width="0.62" stroke-linecap="round"/>
<line x1="83.83" y1="60.28" x2="83.83" y2="56.32" stroke="#7891b7" stroke-width="0.62" stroke-linecap="round"/>
<line x1="93.57" y1="61.40" x2="97.87" y2="63.90" stroke="#7891b7" stroke-width="0.62" stroke-linecap="round"/>
<line x1="93.57" y1="55.20" x2="98.97" y2="52.10" stroke="#7891b7" stroke-width="0.62" stroke-linecap="round"/>
<line x1="98.97" y1="52.10" x2="103.37" y2="54.60" stroke="#7891b7" stroke-width="0.62" stroke-linecap="round"/>
<line x1="99.17" y1="53.20" x2="102.87" y2="55.40" stroke="#7891b7" stroke-width="0.62" stroke-linecap="round"/>
<line x1="98.97" y1="52.10" x2="98.97" y2="47.10" stroke="#7891b7" stroke-width="0.62" stroke-linecap="round"/>
<polyline points="97.67,44.95 93.60,42.60 93.60,36.40 97.67,34.05" fill="none" stroke="#7891b7" stroke-width="0.62" stroke-linejoin="round"/>
<polyline points="100.27,44.95 104.34,42.60 104.34,36.40 100.27,34.05" fill="none" stroke="#7891b7" stroke-width="0.62" stroke-linejoin="round"/>
<line x1="98.97" y1="31.90" x2="98.97" y2="27.00" stroke="#7891b7" stroke-width="0.62" stroke-linecap="round"/>
<line x1="98.97" y1="27.00" x2="103.27" y2="24.50" stroke="#7891b7" stroke-width="0.62" stroke-linecap="round"/>
<line x1="99.47" y1="25.90" x2="103.07" y2="23.80" stroke="#7891b7" stroke-width="0.62" stroke-linecap="round"/>
<line x1="98.97" y1="27.00" x2="96.20" y2="23.00" stroke="#7891b7" stroke-width="0.62" stroke-linecap="round"/>
<polygon points="92.10,16.60 88.00,23.00 96.20,23.00" fill="none" stroke="#7891b7" stroke-width="0.62" stroke-linejoin="round"/>
<polygon points="184.50,38.70 190.70,42.20 190.70,49.60 184.50,53.10 178.50,49.60 178.50,42.20" fill="none" stroke="#7891b7" stroke-width="0.62" stroke-linejoin="round"/>
<line x1="183.91" y1="51.60" x2="180.07" y2="49.36" stroke="#7891b7" stroke-width="0.62" stroke-linecap="round"/>
<line x1="180.07" y1="42.44" x2="183.91" y2="40.20" stroke="#7891b7" stroke-width="0.62" stroke-linecap="round"/>
<line x1="189.70" y1="43.53" x2="189.70" y2="48.27" stroke="#7891b7" stroke-width="0.62" stroke-linecap="round"/>
<line x1="190.70" y1="42.20" x2="195.70" y2="41.30" stroke="#7891b7" stroke-width="0.62" stroke-linecap="round"/>
<line x1="197.70" y1="42.40" x2="200.80" y2="46.10" stroke="#7891b7" stroke-width="0.62" stroke-linecap="round"/>
<line x1="197.10" y1="43.20" x2="199.80" y2="46.20" stroke="#7891b7" stroke-width="0.62" stroke-linecap="round"/>
<line x1="200.80" y1="46.10" x2="197.80" y2="50.30" stroke="#7891b7" stroke-width="0.62" stroke-linecap="round"/>
<line x1="195.70" y1="51.40" x2="190.70" y2="49.60" stroke="#7891b7" stroke-width="0.62" stroke-linecap="round"/>
<polygon points="200.80,46.10 208.20,45.20 208.20,47.00" fill="#7891b7"/>
<line x1="208.20" y1="46.10" x2="205.40" y2="40.40" stroke="#7891b7" stroke-width="0.62" stroke-linecap="round"/>
<polyline points="212.60,52.00 208.20,46.10 213.10,40.70 219.40,42.90 219.40,49.60" fill="none" stroke="#7891b7" stroke-width="0.62" stroke-linejoin="round"/>
<line x1="219.40" y1="49.60" x2="213.80" y2="52.30" stroke="#7891b7" stroke-width="0.62" stroke-linecap="round"/>
<line x1="184.50" y1="38.70" x2="184.50" y2="31.60" stroke="#7891b7" stroke-width="0.62" stroke-linecap="round"/>
<line x1="184.50" y1="31.60" x2="189.20" y2="29.00" stroke="#7891b7" stroke-width="0.62" stroke-linecap="round"/>
<line x1="184.90" y1="32.70" x2="189.60" y2="30.10" stroke="#7891b7" stroke-width="0.62" stroke-linecap="round"/>
<line x1="184.50" y1="31.60" x2="179.90" y2="29.00" stroke="#7891b7" stroke-width="0.62" stroke-linecap="round"/>
<polyline points="330.93,19.10 336.30,16.00 341.67,19.10 341.67,25.30 336.30,28.40 330.93,25.30" fill="none" stroke="#7891b7" stroke-width="0.62" stroke-linejoin="round"/>
<line x1="330.93" y1="25.30" x2="330.93" y2="20.60" stroke="#7891b7" stroke-width="0.62" stroke-linecap="round"/>
<line x1="342.87" y1="25.80" x2="347.51" y2="27.90" stroke="#7891b7" stroke-width="0.62" stroke-linecap="round"/>
<polyline points="347.51,34.70 347.51,27.90 353.40,24.50 359.29,27.90 359.29,34.70 353.40,38.10 347.51,34.70" fill="none" stroke="#7891b7" stroke-width="0.62" stroke-linejoin="round"/>
<line x1="349.07" y1="28.15" x2="352.84" y2="25.98" stroke="#7891b7" stroke-width="0.62" stroke-linecap="round"/>
<line x1="357.73" y1="34.45" x2="353.96" y2="36.62" stroke="#7891b7" stroke-width="0.62" stroke-linecap="round"/>
<line x1="359.29" y1="27.90" x2="363.29" y2="26.30" stroke="#7891b7" stroke-width="0.62" stroke-linecap="round"/>
<line x1="359.59" y1="28.80" x2="363.59" y2="27.20" stroke="#7891b7" stroke-width="0.62" stroke-linecap="round"/>
<line x1="353.40" y1="38.10" x2="353.30" y2="44.20" stroke="#7891b7" stroke-width="0.62" stroke-linecap="round"/>
<polygon points="330.60,44.20 336.14,47.40 336.14,53.80 330.60,57.00 325.06,53.80 325.06,47.40" fill="none" stroke="#7891b7" stroke-width="0.62" stroke-linejoin="round"/>
<line x1="331.10" y1="45.64" x2="334.64" y2="47.69" stroke="#7891b7" stroke-width="0.62" stroke-linecap="round"/>
<line x1="334.64" y1="53.51" x2="331.10" y2="55.56" stroke="#7891b7" stroke-width="0.62" stroke-linecap="round"/>
<line x1="326.06" y1="52.65" x2="326.06" y2="48.55" stroke="#7891b7" stroke-width="0.62" stroke-linecap="round"/>
<polygon points="342.10,44.20 347.64,47.40 347.64,53.80 342.10,57.00 336.56,53.80 336.56,47.40" fill="none" stroke="#7891b7" stroke-width="0.62" stroke-linejoin="round"/>
<polygon points="353.30,44.20 358.84,47.40 358.84,53.80 353.30,57.00 347.76,53.80 347.76,47.40" fill="none" stroke="#7891b7" stroke-width="0.62" stroke-linejoin="round"/>
<line x1="353.80" y1="45.64" x2="357.34" y2="47.69" stroke="#7891b7" stroke-width="0.62" stroke-linecap="round"/>
<line x1="357.34" y1="53.51" x2="353.80" y2="55.56" stroke="#7891b7" stroke-width="0.62" stroke-linecap="round"/>
<line x1="348.76" y1="52.65" x2="348.76" y2="48.55" stroke="#7891b7" stroke-width="0.62" stroke-linecap="round"/>
<rect x="340.6" y="42.3" width="3" height="3.4" fill="#fff"/>
<rect x="340.6" y="55.5" width="3" height="3.4" fill="#fff"/>
<polyline points="478.70,23.60 484.76,27.10 484.76,34.10 478.70,37.60 472.64,34.10 472.64,27.10 478.70,23.60" fill="none" stroke="#7891b7" stroke-width="0.62" stroke-linejoin="round"/>
<line x1="483.76" y1="28.36" x2="483.76" y2="32.84" stroke="#7891b7" stroke-width="0.62" stroke-linecap="round"/>
<line x1="473.64" y1="32.84" x2="473.64" y2="28.36" stroke="#7891b7" stroke-width="0.62" stroke-linecap="round"/>
<line x1="472.64" y1="27.10" x2="468.44" y2="25.10" stroke="#7891b7" stroke-width="0.62" stroke-linecap="round"/>
<line x1="472.64" y1="34.10" x2="466.20" y2="36.90" stroke="#7891b7" stroke-width="0.62" stroke-linecap="round"/>
<line x1="466.20" y1="36.90" x2="461.20" y2="34.00" stroke="#7891b7" stroke-width="0.62" stroke-linecap="round"/>
<line x1="465.70" y1="37.90" x2="460.70" y2="35.00" stroke="#7891b7" stroke-width="0.62" stroke-linecap="round"/>
<line x1="466.20" y1="36.90" x2="466.20" y2="42.40" stroke="#7891b7" stroke-width="0.62" stroke-linecap="round"/>
<polygon points="453.70,44.80 459.59,48.20 459.59,55.00 453.70,58.40 447.81,55.00 447.81,48.20" fill="none" stroke="#7891b7" stroke-width="0.62" stroke-linejoin="round"/>
<line x1="454.26" y1="46.28" x2="458.03" y2="48.45" stroke="#7891b7" stroke-width="0.62" stroke-linecap="round"/>
<line x1="458.03" y1="54.75" x2="454.26" y2="56.92" stroke="#7891b7" stroke-width="0.62" stroke-linecap="round"/>
<line x1="448.81" y1="53.78" x2="448.81" y2="49.42" stroke="#7891b7" stroke-width="0.62" stroke-linecap="round"/>
<line x1="459.59" y1="48.20" x2="465.70" y2="44.40" stroke="#7891b7" stroke-width="0.62" stroke-linecap="round"/>
<polygon points="497.80,33.00 504.04,36.60 504.04,43.80 497.80,47.40 491.56,43.80 491.56,36.60" fill="none" stroke="#7891b7" stroke-width="0.62" stroke-linejoin="round"/>
<line x1="498.42" y1="34.51" x2="502.41" y2="36.82" stroke="#7891b7" stroke-width="0.62" stroke-linecap="round"/>
<line x1="502.41" y1="43.58" x2="498.42" y2="45.89" stroke="#7891b7" stroke-width="0.62" stroke-linecap="round"/>
<line x1="492.56" y1="42.50" x2="492.56" y2="37.90" stroke="#7891b7" stroke-width="0.62" stroke-linecap="round"/>
<line x1="484.76" y1="34.10" x2="491.56" y2="36.60" stroke="#7891b7" stroke-width="0.62" stroke-linecap="round"/>
<line x1="504.04" y1="43.80" x2="509.60" y2="47.10" stroke="#7891b7" stroke-width="0.62" stroke-linecap="round"/>
<line x1="510.00" y1="47.10" x2="513.30" y2="42.60" stroke="#7891b7" stroke-width="0.62" stroke-linecap="round"/>
<line x1="509.20" y1="46.60" x2="512.60" y2="42.00" stroke="#7891b7" stroke-width="0.62" stroke-linecap="round"/>
<line x1="509.20" y1="47.10" x2="506.90" y2="52.60" stroke="#7891b7" stroke-width="0.62" stroke-linecap="round"/>
<line x1="510.00" y1="47.60" x2="507.70" y2="53.00" stroke="#7891b7" stroke-width="0.62" stroke-linecap="round"/>
<line x1="509.60" y1="47.10" x2="516.40" y2="51.30" stroke="#7891b7" stroke-width="0.62" stroke-linecap="round"/>
<text x="77.19" y="28.22" font-size="4.22" text-anchor="middle" fill="#fff" stroke="#fff" stroke-width="1.1" stroke-linejoin="round">O</text>
<text x="81.83" y="37.83" font-size="3.97" text-anchor="start" fill="#fff" stroke="#fff" stroke-width="1.1" stroke-linejoin="round">NH</text>
<text x="82.93" y="44.23" font-size="3.97" text-anchor="middle" fill="#fff" stroke="#fff" stroke-width="1.1" stroke-linejoin="round">N</text>
<text x="99.57" y="66.62" font-size="4.22" text-anchor="middle" fill="#fff" stroke="#fff" stroke-width="1.1" stroke-linejoin="round">F</text>
<text x="105.17" y="57.02" font-size="4.22" text-anchor="middle" fill="#fff" stroke="#fff" stroke-width="1.1" stroke-linejoin="round">O</text>
<text x="98.97" y="47.22" font-size="4.22" text-anchor="middle" fill="#fff" stroke="#fff" stroke-width="1.1" stroke-linejoin="round">N</text>
<text x="98.97" y="34.82" font-size="4.22" text-anchor="middle" fill="#fff" stroke="#fff" stroke-width="1.1" stroke-linejoin="round">N</text>
<text x="104.77" y="25.12" font-size="4.22" text-anchor="middle" fill="#fff" stroke="#fff" stroke-width="1.1" stroke-linejoin="round">O</text>
<text x="197.00" y="42.43" font-size="3.97" text-anchor="middle" fill="#fff" stroke="#fff" stroke-width="1.1" stroke-linejoin="round">N</text>
<text x="197.00" y="53.03" font-size="3.97" text-anchor="middle" fill="#fff" stroke="#fff" stroke-width="1.1" stroke-linejoin="round">N</text>
<text x="197.00" y="56.33" font-size="3.97" text-anchor="middle" fill="#fff" stroke="#fff" stroke-width="1.1" stroke-linejoin="round">H</text>
<text x="212.50" y="54.33" font-size="3.97" text-anchor="middle" fill="#fff" stroke="#fff" stroke-width="1.1" stroke-linejoin="round">N</text>
<text x="212.50" y="57.73" font-size="3.97" text-anchor="middle" fill="#fff" stroke="#fff" stroke-width="1.1" stroke-linejoin="round">H</text>
<text x="190.70" y="29.83" font-size="3.97" text-anchor="middle" fill="#fff" stroke="#fff" stroke-width="1.1" stroke-linejoin="round">O</text>
<text x="179.30" y="29.77" font-size="4.10" text-anchor="end" fill="#fff" stroke="#fff" stroke-width="1.1" stroke-linejoin="round">H<tspan font-size="2.6" dy="0.9">2</tspan><tspan dy="-0.9">N</tspan></text>
<text x="330.93" y="20.53" font-size="3.97" text-anchor="middle" fill="#fff" stroke="#fff" stroke-width="1.1" stroke-linejoin="round">O</text>
<text x="341.67" y="26.73" font-size="3.97" text-anchor="middle" fill="#fff" stroke="#fff" stroke-width="1.1" stroke-linejoin="round">N</text>
<text x="364.89" y="27.43" font-size="3.97" text-anchor="middle" fill="#fff" stroke="#fff" stroke-width="1.1" stroke-linejoin="round">O</text>
<text x="347.51" y="36.13" font-size="3.97" text-anchor="middle" fill="#fff" stroke="#fff" stroke-width="1.1" stroke-linejoin="round">O</text>
<text x="342.10" y="45.63" font-size="3.97" text-anchor="middle" fill="#fff" stroke="#fff" stroke-width="1.1" stroke-linejoin="round">S</text>
<text x="342.10" y="58.43" font-size="3.97" text-anchor="middle" fill="#fff" stroke="#fff" stroke-width="1.1" stroke-linejoin="round">S</text>
<text x="478.70" y="25.03" font-size="3.97" text-anchor="middle" fill="#fff" stroke="#fff" stroke-width="1.1" stroke-linejoin="round">N</text>
<text x="478.70" y="39.03" font-size="3.97" text-anchor="middle" fill="#fff" stroke="#fff" stroke-width="1.1" stroke-linejoin="round">N</text>
<text x="468.00" y="25.37" font-size="4.10" text-anchor="end" fill="#fff" stroke="#fff" stroke-width="1.1" stroke-linejoin="round">H<tspan font-size="2.6" dy="0.9">2</tspan><tspan dy="-0.9">N</tspan></text>
<text x="459.80" y="34.93" font-size="3.97" text-anchor="middle" fill="#fff" stroke="#fff" stroke-width="1.1" stroke-linejoin="round">O</text>
<text x="467.50" y="45.58" font-size="3.84" text-anchor="middle" fill="#fff" stroke="#fff" stroke-width="1.1" stroke-linejoin="round">NH</text>
<text x="509.60" y="48.57" font-size="4.10" text-anchor="middle" fill="#fff" stroke="#fff" stroke-width="1.1" stroke-linejoin="round">S</text>
<text x="514.00" y="42.73" font-size="3.97" text-anchor="middle" fill="#fff" stroke="#fff" stroke-width="1.1" stroke-linejoin="round">O</text>
<text x="506.60" y="55.03" font-size="3.97" text-anchor="middle" fill="#fff" stroke="#fff" stroke-width="1.1" stroke-linejoin="round">O</text>
<text x="77.19" y="28.22" font-size="4.22" text-anchor="middle" fill="#7891b7" stroke="#7891b7" stroke-width="0.12">O</text>
<text x="81.83" y="37.83" font-size="3.97" text-anchor="start" fill="#7891b7" stroke="#7891b7" stroke-width="0.12">NH</text>
<text x="82.93" y="44.23" font-size="3.97" text-anchor="middle" fill="#7891b7" stroke="#7891b7" stroke-width="0.12">N</text>
<text x="99.57" y="66.62" font-size="4.22" text-anchor="middle" fill="#7891b7" stroke="#7891b7" stroke-width="0.12">F</text>
<text x="105.17" y="57.02" font-size="4.22" text-anchor="middle" fill="#7891b7" stroke="#7891b7" stroke-width="0.12">O</text>
<text x="98.97" y="47.22" font-size="4.22" text-anchor="middle" fill="#7891b7" stroke="#7891b7" stroke-width="0.12">N</text>
<text x="98.97" y="34.82" font-size="4.22" text-anchor="middle" fill="#7891b7" stroke="#7891b7" stroke-width="0.12">N</text>
<text x="104.77" y="25.12" font-size="4.22" text-anchor="middle" fill="#7891b7" stroke="#7891b7" stroke-width="0.12">O</text>
<text x="197.00" y="42.43" font-size="3.97" text-anchor="middle" fill="#7891b7" stroke="#7891b7" stroke-width="0.12">N</text>
<text x="197.00" y="53.03" font-size="3.97" text-anchor="middle" fill="#7891b7" stroke="#7891b7" stroke-width="0.12">N</text>
<text x="197.00" y="56.33" font-size="3.97" text-anchor="middle" fill="#7891b7" stroke="#7891b7" stroke-width="0.12">H</text>
<text x="212.50" y="54.33" font-size="3.97" text-anchor="middle" fill="#7891b7" stroke="#7891b7" stroke-width="0.12">N</text>
<text x="212.50" y="57.73" font-size="3.97" text-anchor="middle" fill="#7891b7" stroke="#7891b7" stroke-width="0.12">H</text>
<text x="190.70" y="29.83" font-size="3.97" text-anchor="middle" fill="#7891b7" stroke="#7891b7" stroke-width="0.12">O</text>
<text x="179.30" y="29.77" font-size="4.10" text-anchor="end" fill="#7891b7" stroke="#7891b7" stroke-width="0.12">H<tspan font-size="2.6" dy="0.9">2</tspan><tspan dy="-0.9">N</tspan></text>
<text x="330.93" y="20.53" font-size="3.97" text-anchor="middle" fill="#7891b7" stroke="#7891b7" stroke-width="0.12">O</text>
<text x="341.67" y="26.73" font-size="3.97" text-anchor="middle" fill="#7891b7" stroke="#7891b7" stroke-width="0.12">N</text>
<text x="364.89" y="27.43" font-size="3.97" text-anchor="middle" fill="#7891b7" stroke="#7891b7" stroke-width="0.12">O</text>
<text x="347.51" y="36.13" font-size="3.97" text-anchor="middle" fill="#7891b7" stroke="#7891b7" stroke-width="0.12">O</text>
<text x="342.10" y="45.63" font-size="3.97" text-anchor="middle" fill="#7891b7" stroke="#7891b7" stroke-width="0.12">S</text>
<text x="342.10" y="58.43" font-size="3.97" text-anchor="middle" fill="#7891b7" stroke="#7891b7" stroke-width="0.12">S</text>
<text x="478.70" y="25.03" font-size="3.97" text-anchor="middle" fill="#7891b7" stroke="#7891b7" stroke-width="0.12">N</text>
<text x="478.70" y="39.03" font-size="3.97" text-anchor="middle" fill="#7891b7" stroke="#7891b7" stroke-width="0.12">N</text>
<text x="468.00" y="25.37" font-size="4.10" text-anchor="end" fill="#7891b7" stroke="#7891b7" stroke-width="0.12">H<tspan font-size="2.6" dy="0.9">2</tspan><tspan dy="-0.9">N</tspan></text>
<text x="459.80" y="34.93" font-size="3.97" text-anchor="middle" fill="#7891b7" stroke="#7891b7" stroke-width="0.12">O</text>
<text x="467.50" y="45.58" font-size="3.84" text-anchor="middle" fill="#7891b7" stroke="#7891b7" stroke-width="0.12">NH</text>
<text x="509.60" y="48.57" font-size="4.10" text-anchor="middle" fill="#7891b7" stroke="#7891b7" stroke-width="0.12">S</text>
<text x="514.00" y="42.73" font-size="3.97" text-anchor="middle" fill="#7891b7" stroke="#7891b7" stroke-width="0.12">O</text>
<text x="506.60" y="55.03" font-size="3.97" text-anchor="middle" fill="#7891b7" stroke="#7891b7" stroke-width="0.12">O</text>
</svg></body></html>
